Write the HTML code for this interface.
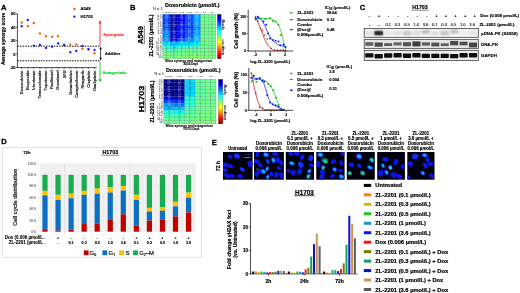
<!DOCTYPE html>
<html lang="en">
<head>
<meta charset="utf-8">
<title>ZL-2201 and doxorubicin synergy figure</title>
<style>
html,body{margin:0;padding:0;background:#fff;}
body{width:520px;height:293px;overflow:hidden;}
svg{display:block;font-family:"Liberation Sans",Arial,sans-serif;}
</style>
</head>
<body>
<svg width="520" height="293" viewBox="0 0 520 293">
<defs>
<linearGradient id="jet" x1="0" y1="0" x2="0" y2="1">
<stop offset="0" stop-color="#00008f"/>
<stop offset="0.12" stop-color="#0000ff"/>
<stop offset="0.37" stop-color="#00ffff"/>
<stop offset="0.5" stop-color="#7fff7f"/>
<stop offset="0.63" stop-color="#ffff00"/>
<stop offset="0.88" stop-color="#ff0000"/>
<stop offset="1" stop-color="#800000"/>
</linearGradient>
<filter id="b1" x="-30%" y="-30%" width="160%" height="160%"><feGaussianBlur stdDeviation="0.55"/></filter>
<filter id="b2" x="-30%" y="-60%" width="160%" height="220%"><feGaussianBlur stdDeviation="0.55"/></filter>
<filter id="b3" x="-30%" y="-60%" width="160%" height="220%"><feGaussianBlur stdDeviation="0.9"/></filter>
</defs>
<rect x="0" y="0" width="520" height="293" fill="#ffffff"/>
<g id="panelA">
<text x="1.00" y="9.70" font-size="7.6" text-anchor="start" font-weight="bold" fill="#000" stroke="#000" stroke-width="0.266">A</text>
<line x1="17.40" y1="13.60" x2="17.40" y2="67.90" stroke="#000" stroke-width="0.7"/>
<line x1="17.10" y1="67.60" x2="96.80" y2="67.60" stroke="#000" stroke-width="0.7"/>
<line x1="16.00" y1="13.90" x2="17.40" y2="13.90" stroke="#000" stroke-width="0.6"/>
<text x="15.40" y="15.30" font-size="4.0" text-anchor="end" font-weight="bold" fill="#000" stroke="#000" stroke-width="0.140">60</text>
<line x1="16.00" y1="27.30" x2="17.40" y2="27.30" stroke="#000" stroke-width="0.6"/>
<text x="15.40" y="28.70" font-size="4.0" text-anchor="end" font-weight="bold" fill="#000" stroke="#000" stroke-width="0.140">40</text>
<line x1="16.00" y1="40.70" x2="17.40" y2="40.70" stroke="#000" stroke-width="0.6"/>
<text x="15.40" y="42.10" font-size="4.0" text-anchor="end" font-weight="bold" fill="#000" stroke="#000" stroke-width="0.140">20</text>
<line x1="16.00" y1="54.10" x2="17.40" y2="54.10" stroke="#000" stroke-width="0.6"/>
<text x="15.40" y="55.50" font-size="4.0" text-anchor="end" font-weight="bold" fill="#000" stroke="#000" stroke-width="0.140">0</text>
<line x1="16.00" y1="67.50" x2="17.40" y2="67.50" stroke="#000" stroke-width="0.6"/>
<text x="15.40" y="68.90" font-size="4.0" text-anchor="end" font-weight="bold" fill="#000" stroke="#000" stroke-width="0.140">-20</text>
<text x="4.80" y="38.80" font-size="4.75" text-anchor="middle" font-weight="bold" fill="#000" transform="rotate(-90 4.80 38.80)" stroke="#000" stroke-width="0.166">Average synergy score</text>
<line x1="17.40" y1="54.10" x2="96.50" y2="54.10" stroke="#bbb" stroke-width="0.35" stroke-dasharray="0.6 0.6"/>
<line x1="17.40" y1="46.20" x2="100.30" y2="46.20" stroke="#000" stroke-width="0.95" stroke-dasharray="1.5 1.1"/>
<line x1="17.40" y1="60.80" x2="100.30" y2="60.80" stroke="#000" stroke-width="0.95" stroke-dasharray="1.5 1.1"/>
<line x1="21.70" y1="67.60" x2="21.70" y2="69.00" stroke="#000" stroke-width="0.5"/>
<text x="23.05" y="70.40" font-size="4.1" text-anchor="end" font-weight="bold" fill="#1a1a1a" transform="rotate(-90 23.05 70.40)" stroke="#1a1a1a" stroke-width="0.143">Doxorubicin</text>
<line x1="27.77" y1="67.60" x2="27.77" y2="69.00" stroke="#000" stroke-width="0.5"/>
<text x="29.12" y="70.40" font-size="4.1" text-anchor="end" font-weight="bold" fill="#1a1a1a" transform="rotate(-90 29.12 70.40)" stroke="#1a1a1a" stroke-width="0.143">Etoposide</text>
<line x1="33.84" y1="67.60" x2="33.84" y2="69.00" stroke="#000" stroke-width="0.5"/>
<text x="35.19" y="70.40" font-size="4.1" text-anchor="end" font-weight="bold" fill="#1a1a1a" transform="rotate(-90 35.19 70.40)" stroke="#1a1a1a" stroke-width="0.143">Irinotecan</text>
<line x1="39.91" y1="67.60" x2="39.91" y2="69.00" stroke="#000" stroke-width="0.5"/>
<text x="41.26" y="70.40" font-size="4.1" text-anchor="end" font-weight="bold" fill="#1a1a1a" transform="rotate(-90 41.26 70.40)" stroke="#1a1a1a" stroke-width="0.143">Temozolomide</text>
<line x1="45.98" y1="67.60" x2="45.98" y2="69.00" stroke="#000" stroke-width="0.5"/>
<text x="47.33" y="70.40" font-size="4.1" text-anchor="end" font-weight="bold" fill="#1a1a1a" transform="rotate(-90 47.33 70.40)" stroke="#1a1a1a" stroke-width="0.143">Topotecan</text>
<line x1="52.05" y1="67.60" x2="52.05" y2="69.00" stroke="#000" stroke-width="0.5"/>
<text x="53.40" y="70.40" font-size="4.1" text-anchor="end" font-weight="bold" fill="#1a1a1a" transform="rotate(-90 53.40 70.40)" stroke="#1a1a1a" stroke-width="0.143">Paclitaxel</text>
<line x1="58.12" y1="67.60" x2="58.12" y2="69.00" stroke="#000" stroke-width="0.5"/>
<text x="59.47" y="70.40" font-size="4.1" text-anchor="end" font-weight="bold" fill="#1a1a1a" transform="rotate(-90 59.47 70.40)" stroke="#1a1a1a" stroke-width="0.143">Docetaxel</text>
<line x1="64.19" y1="67.60" x2="64.19" y2="69.00" stroke="#000" stroke-width="0.5"/>
<text x="65.54" y="70.40" font-size="4.1" text-anchor="end" font-weight="bold" fill="#1a1a1a" transform="rotate(-90 65.54 70.40)" stroke="#1a1a1a" stroke-width="0.143">5FU</text>
<line x1="70.26" y1="67.60" x2="70.26" y2="69.00" stroke="#000" stroke-width="0.5"/>
<text x="71.61" y="70.40" font-size="4.1" text-anchor="end" font-weight="bold" fill="#1a1a1a" transform="rotate(-90 71.61 70.40)" stroke="#1a1a1a" stroke-width="0.143">Gemcitabine</text>
<line x1="76.33" y1="67.60" x2="76.33" y2="69.00" stroke="#000" stroke-width="0.5"/>
<text x="77.68" y="70.40" font-size="4.1" text-anchor="end" font-weight="bold" fill="#1a1a1a" transform="rotate(-90 77.68 70.40)" stroke="#1a1a1a" stroke-width="0.143">Camptothecin</text>
<line x1="82.40" y1="67.60" x2="82.40" y2="69.00" stroke="#000" stroke-width="0.5"/>
<text x="83.75" y="70.40" font-size="4.1" text-anchor="end" font-weight="bold" fill="#1a1a1a" transform="rotate(-90 83.75 70.40)" stroke="#1a1a1a" stroke-width="0.143">Niraparib</text>
<line x1="88.47" y1="67.60" x2="88.47" y2="69.00" stroke="#000" stroke-width="0.5"/>
<text x="89.82" y="70.40" font-size="4.1" text-anchor="end" font-weight="bold" fill="#1a1a1a" transform="rotate(-90 89.82 70.40)" stroke="#1a1a1a" stroke-width="0.143">Cisplatin</text>
<line x1="94.54" y1="67.60" x2="94.54" y2="69.00" stroke="#000" stroke-width="0.5"/>
<text x="95.89" y="70.40" font-size="4.1" text-anchor="end" font-weight="bold" fill="#1a1a1a" transform="rotate(-90 95.89 70.40)" stroke="#1a1a1a" stroke-width="0.143">Oxaliplatin</text>
<rect x="20.65" y="21.45" width="2.10" height="2.10" fill="#ff5a00"/>
<rect x="26.72" y="25.20" width="2.10" height="2.10" fill="#ff5a00"/>
<rect x="32.79" y="21.95" width="2.10" height="2.10" fill="#ff5a00"/>
<rect x="38.86" y="32.45" width="2.10" height="2.10" fill="#ff5a00"/>
<rect x="44.93" y="35.20" width="2.10" height="2.10" fill="#ff5a00"/>
<rect x="51.00" y="35.70" width="2.10" height="2.10" fill="#ff5a00"/>
<rect x="57.07" y="35.20" width="2.10" height="2.10" fill="#ff5a00"/>
<rect x="63.14" y="43.45" width="2.10" height="2.10" fill="#ff5a00"/>
<rect x="69.21" y="43.45" width="2.10" height="2.10" fill="#ff5a00"/>
<rect x="75.28" y="43.45" width="2.10" height="2.10" fill="#ff5a00"/>
<rect x="81.35" y="47.70" width="2.10" height="2.10" fill="#ff5a00"/>
<rect x="87.42" y="48.45" width="2.10" height="2.10" fill="#ff5a00"/>
<rect x="93.49" y="52.20" width="2.10" height="2.10" fill="#ff5a00"/>
<circle cx="21.70" cy="26.25" r="1.15" fill="#0a14ff"/>
<circle cx="27.77" cy="20.00" r="1.15" fill="#0a14ff"/>
<circle cx="33.84" cy="45.75" r="1.15" fill="#0a14ff"/>
<circle cx="39.91" cy="45.00" r="1.15" fill="#0a14ff"/>
<circle cx="45.98" cy="48.00" r="1.15" fill="#0a14ff"/>
<circle cx="52.05" cy="46.75" r="1.15" fill="#0a14ff"/>
<circle cx="58.12" cy="43.50" r="1.15" fill="#0a14ff"/>
<circle cx="64.19" cy="45.25" r="1.15" fill="#0a14ff"/>
<circle cx="70.26" cy="52.25" r="1.15" fill="#0a14ff"/>
<circle cx="76.33" cy="51.00" r="1.15" fill="#0a14ff"/>
<circle cx="82.40" cy="46.00" r="1.15" fill="#0a14ff"/>
<circle cx="88.47" cy="49.25" r="1.15" fill="#0a14ff"/>
<circle cx="94.54" cy="50.00" r="1.15" fill="#0a14ff"/>
<rect x="73.30" y="7.80" width="2.10" height="2.10" fill="#ff5a00"/>
<text x="80.50" y="10.30" font-size="4.2" text-anchor="start" font-weight="bold" fill="#000" stroke="#000" stroke-width="0.147">A549</text>
<circle cx="74.3" cy="16.7" r="1.15" fill="#0a14ff"/>
<text x="80.50" y="18.20" font-size="4.2" text-anchor="start" font-weight="bold" fill="#000" stroke="#000" stroke-width="0.147">H1703</text>
<line x1="100.00" y1="22.50" x2="100.00" y2="45.60" stroke="#ff2a2e" stroke-width="0.9"/>
<polygon points="100,20.3 98.4,23.6 101.6,23.6" fill="#ff2a2e"/>
<text x="103.20" y="36.30" font-size="3.9" text-anchor="start" font-weight="bold" fill="#ff2a2e" stroke="#ff2a2e" stroke-width="0.137">Synergistic</text>
<line x1="100.60" y1="48.00" x2="100.60" y2="59.00" stroke="#000" stroke-width="0.7"/>
<polygon points="100.6,46.6 99.4,49.2 101.8,49.2" fill="#000"/>
<polygon points="100.6,60.4 99.4,57.8 101.8,57.8" fill="#000"/>
<text x="105.00" y="54.60" font-size="3.9" text-anchor="start" font-weight="bold" fill="#000" stroke="#000" stroke-width="0.137">Additive</text>
<line x1="100.00" y1="61.50" x2="100.00" y2="80.40" stroke="#10d020" stroke-width="0.9"/>
<polygon points="100,82.6 98.4,79.3 101.6,79.3" fill="#10d020"/>
<text x="102.80" y="74.20" font-size="3.9" text-anchor="start" font-weight="bold" fill="#10d020" stroke="#10d020" stroke-width="0.137">Antagonistic</text>
</g>
<g id="panelB">
<text x="130.00" y="10.00" font-size="7.6" text-anchor="start" font-weight="bold" fill="#000" stroke="#000" stroke-width="0.266">B</text>
<text x="192.30" y="7.10" font-size="6.2" text-anchor="middle" font-weight="bold" fill="#000" stroke="#000" stroke-width="0.217" textLength="54.50" lengthAdjust="spacingAndGlyphs">Doxorubicin (µmol/L)</text>
<text x="152.90" y="10.40" font-size="3.9" text-anchor="start" font-weight="normal" fill="#111">N = 1</text>
<text x="166.40" y="12.90" font-size="2.5" text-anchor="middle" font-weight="normal" fill="#222">0.0015</text>
<text x="174.00" y="12.90" font-size="2.5" text-anchor="middle" font-weight="normal" fill="#222">0.004</text>
<text x="181.60" y="12.90" font-size="2.5" text-anchor="middle" font-weight="normal" fill="#222">0.02</text>
<text x="189.20" y="12.90" font-size="2.5" text-anchor="middle" font-weight="normal" fill="#222">0.08</text>
<text x="196.80" y="12.90" font-size="2.5" text-anchor="middle" font-weight="normal" fill="#222">0.2</text>
<text x="204.40" y="12.90" font-size="2.5" text-anchor="middle" font-weight="normal" fill="#222">7.2</text>
<text x="212.00" y="12.90" font-size="2.5" text-anchor="middle" font-weight="normal" fill="#222">20</text>
<text x="161.60" y="17.01" font-size="2.9" text-anchor="end" font-weight="normal" fill="#111">0.5</text>
<rect x="162.60" y="14.30" width="7.65" height="3.47" fill="#004dff"/>
<text x="166.40" y="16.96" font-size="2.6" text-anchor="middle" font-weight="normal" fill="#fff" opacity="0.6">33</text>
<rect x="170.20" y="14.30" width="7.65" height="3.47" fill="#00009a"/>
<text x="174.00" y="16.96" font-size="2.6" text-anchor="middle" font-weight="normal" fill="#fff" opacity="0.6">54</text>
<rect x="177.80" y="14.30" width="7.65" height="3.47" fill="#0000da"/>
<text x="181.60" y="16.96" font-size="2.6" text-anchor="middle" font-weight="normal" fill="#fff" opacity="0.6">46</text>
<rect x="185.40" y="14.30" width="7.65" height="3.47" fill="#0044ff"/>
<text x="189.20" y="16.96" font-size="2.6" text-anchor="middle" font-weight="normal" fill="#fff" opacity="0.6">34</text>
<rect x="193.00" y="14.30" width="7.65" height="3.47" fill="#009fff"/>
<text x="196.80" y="16.96" font-size="2.6" text-anchor="middle" font-weight="normal" fill="#fff" opacity="0.6">24</text>
<rect x="200.60" y="14.30" width="7.65" height="3.47" fill="#71ff8e"/>
<text x="204.40" y="16.96" font-size="2.6" text-anchor="middle" font-weight="normal" fill="#124" opacity="0.6">1</text>
<rect x="208.20" y="14.30" width="7.65" height="3.47" fill="#71ff8e"/>
<text x="212.00" y="16.96" font-size="2.6" text-anchor="middle" font-weight="normal" fill="#124" opacity="0.6">1</text>
<text x="161.60" y="20.43" font-size="2.9" text-anchor="end" font-weight="normal" fill="#111">0.7</text>
<rect x="162.60" y="17.72" width="7.65" height="3.47" fill="#0044ff"/>
<text x="166.40" y="20.38" font-size="2.6" text-anchor="middle" font-weight="normal" fill="#fff" opacity="0.6">34</text>
<rect x="170.20" y="17.72" width="7.65" height="3.47" fill="#0000b2"/>
<text x="174.00" y="20.38" font-size="2.6" text-anchor="middle" font-weight="normal" fill="#fff" opacity="0.6">51</text>
<rect x="177.80" y="17.72" width="7.65" height="3.47" fill="#0000f2"/>
<text x="181.60" y="20.38" font-size="2.6" text-anchor="middle" font-weight="normal" fill="#fff" opacity="0.6">43</text>
<rect x="185.40" y="17.72" width="7.65" height="3.47" fill="#004dff"/>
<text x="189.20" y="20.38" font-size="2.6" text-anchor="middle" font-weight="normal" fill="#fff" opacity="0.6">33</text>
<rect x="193.00" y="17.72" width="7.65" height="3.47" fill="#009fff"/>
<text x="196.80" y="20.38" font-size="2.6" text-anchor="middle" font-weight="normal" fill="#fff" opacity="0.6">24</text>
<rect x="200.60" y="17.72" width="7.65" height="3.47" fill="#71ff8e"/>
<text x="204.40" y="20.38" font-size="2.6" text-anchor="middle" font-weight="normal" fill="#124" opacity="0.6">1</text>
<rect x="208.20" y="17.72" width="7.65" height="3.47" fill="#71ff8e"/>
<text x="212.00" y="20.38" font-size="2.6" text-anchor="middle" font-weight="normal" fill="#124" opacity="0.6">1</text>
<text x="161.60" y="23.86" font-size="2.9" text-anchor="end" font-weight="normal" fill="#111">1.1</text>
<rect x="162.60" y="21.15" width="7.65" height="3.47" fill="#0032ff"/>
<text x="166.40" y="23.81" font-size="2.6" text-anchor="middle" font-weight="normal" fill="#fff" opacity="0.6">36</text>
<rect x="170.20" y="21.15" width="7.65" height="3.47" fill="#00008f"/>
<text x="174.00" y="23.81" font-size="2.6" text-anchor="middle" font-weight="normal" fill="#fff" opacity="0.6">57</text>
<rect x="177.80" y="21.15" width="7.65" height="3.47" fill="#0000e2"/>
<text x="181.60" y="23.81" font-size="2.6" text-anchor="middle" font-weight="normal" fill="#fff" opacity="0.6">45</text>
<rect x="185.40" y="21.15" width="7.65" height="3.47" fill="#0044ff"/>
<text x="189.20" y="23.81" font-size="2.6" text-anchor="middle" font-weight="normal" fill="#fff" opacity="0.6">34</text>
<rect x="193.00" y="21.15" width="7.65" height="3.47" fill="#009fff"/>
<text x="196.80" y="23.81" font-size="2.6" text-anchor="middle" font-weight="normal" fill="#fff" opacity="0.6">24</text>
<rect x="200.60" y="21.15" width="7.65" height="3.47" fill="#71ff8e"/>
<text x="204.40" y="23.81" font-size="2.6" text-anchor="middle" font-weight="normal" fill="#124" opacity="0.6">1</text>
<rect x="208.20" y="21.15" width="7.65" height="3.47" fill="#71ff8e"/>
<text x="212.00" y="23.81" font-size="2.6" text-anchor="middle" font-weight="normal" fill="#124" opacity="0.6">1</text>
<text x="161.60" y="27.28" font-size="2.9" text-anchor="end" font-weight="normal" fill="#111">1.6</text>
<rect x="162.60" y="24.57" width="7.65" height="3.47" fill="#004dff"/>
<text x="166.40" y="27.23" font-size="2.6" text-anchor="middle" font-weight="normal" fill="#fff" opacity="0.6">33</text>
<rect x="170.20" y="24.57" width="7.65" height="3.47" fill="#0000ca"/>
<text x="174.00" y="27.23" font-size="2.6" text-anchor="middle" font-weight="normal" fill="#fff" opacity="0.6">48</text>
<rect x="177.80" y="24.57" width="7.65" height="3.47" fill="#0016ff"/>
<text x="181.60" y="27.23" font-size="2.6" text-anchor="middle" font-weight="normal" fill="#fff" opacity="0.6">39</text>
<rect x="185.40" y="24.57" width="7.65" height="3.47" fill="#003bff"/>
<text x="189.20" y="27.23" font-size="2.6" text-anchor="middle" font-weight="normal" fill="#fff" opacity="0.6">35</text>
<rect x="193.00" y="24.57" width="7.65" height="3.47" fill="#0096ff"/>
<text x="196.80" y="27.23" font-size="2.6" text-anchor="middle" font-weight="normal" fill="#fff" opacity="0.6">25</text>
<rect x="200.60" y="24.57" width="7.65" height="3.47" fill="#71ff8e"/>
<text x="204.40" y="27.23" font-size="2.6" text-anchor="middle" font-weight="normal" fill="#124" opacity="0.6">1</text>
<rect x="208.20" y="24.57" width="7.65" height="3.47" fill="#71ff8e"/>
<text x="212.00" y="27.23" font-size="2.6" text-anchor="middle" font-weight="normal" fill="#124" opacity="0.6">1</text>
<text x="161.60" y="30.70" font-size="2.9" text-anchor="end" font-weight="normal" fill="#111">2.3</text>
<rect x="162.60" y="27.99" width="7.65" height="3.47" fill="#005fff"/>
<text x="166.40" y="30.65" font-size="2.6" text-anchor="middle" font-weight="normal" fill="#fff" opacity="0.6">31</text>
<rect x="170.20" y="27.99" width="7.65" height="3.47" fill="#0000b2"/>
<text x="174.00" y="30.65" font-size="2.6" text-anchor="middle" font-weight="normal" fill="#fff" opacity="0.6">51</text>
<rect x="177.80" y="27.99" width="7.65" height="3.47" fill="#0016ff"/>
<text x="181.60" y="30.65" font-size="2.6" text-anchor="middle" font-weight="normal" fill="#fff" opacity="0.6">39</text>
<rect x="185.40" y="27.99" width="7.65" height="3.47" fill="#004dff"/>
<text x="189.20" y="30.65" font-size="2.6" text-anchor="middle" font-weight="normal" fill="#fff" opacity="0.6">33</text>
<rect x="193.00" y="27.99" width="7.65" height="3.47" fill="#0096ff"/>
<text x="196.80" y="30.65" font-size="2.6" text-anchor="middle" font-weight="normal" fill="#fff" opacity="0.6">25</text>
<rect x="200.60" y="27.99" width="7.65" height="3.47" fill="#71ff8e"/>
<text x="204.40" y="30.65" font-size="2.6" text-anchor="middle" font-weight="normal" fill="#124" opacity="0.6">1</text>
<rect x="208.20" y="27.99" width="7.65" height="3.47" fill="#71ff8e"/>
<text x="212.00" y="30.65" font-size="2.6" text-anchor="middle" font-weight="normal" fill="#124" opacity="0.6">1</text>
<text x="161.60" y="34.13" font-size="2.9" text-anchor="end" font-weight="normal" fill="#111">3.4</text>
<rect x="162.60" y="31.42" width="7.65" height="3.47" fill="#0084ff"/>
<text x="166.40" y="34.08" font-size="2.6" text-anchor="middle" font-weight="normal" fill="#fff" opacity="0.6">27</text>
<rect x="170.20" y="31.42" width="7.65" height="3.47" fill="#0000ca"/>
<text x="174.00" y="34.08" font-size="2.6" text-anchor="middle" font-weight="normal" fill="#fff" opacity="0.6">48</text>
<rect x="177.80" y="31.42" width="7.65" height="3.47" fill="#0016ff"/>
<text x="181.60" y="34.08" font-size="2.6" text-anchor="middle" font-weight="normal" fill="#fff" opacity="0.6">39</text>
<rect x="185.40" y="31.42" width="7.65" height="3.47" fill="#004dff"/>
<text x="189.20" y="34.08" font-size="2.6" text-anchor="middle" font-weight="normal" fill="#fff" opacity="0.6">33</text>
<rect x="193.00" y="31.42" width="7.65" height="3.47" fill="#009fff"/>
<text x="196.80" y="34.08" font-size="2.6" text-anchor="middle" font-weight="normal" fill="#fff" opacity="0.6">24</text>
<rect x="200.60" y="31.42" width="7.65" height="3.47" fill="#71ff8e"/>
<text x="204.40" y="34.08" font-size="2.6" text-anchor="middle" font-weight="normal" fill="#124" opacity="0.6">1</text>
<rect x="208.20" y="31.42" width="7.65" height="3.47" fill="#71ff8e"/>
<text x="212.00" y="34.08" font-size="2.6" text-anchor="middle" font-weight="normal" fill="#124" opacity="0.6">1</text>
<text x="161.60" y="37.55" font-size="2.9" text-anchor="end" font-weight="normal" fill="#111">5</text>
<rect x="162.60" y="34.84" width="7.65" height="3.47" fill="#0084ff"/>
<text x="166.40" y="37.50" font-size="2.6" text-anchor="middle" font-weight="normal" fill="#fff" opacity="0.6">27</text>
<rect x="170.20" y="34.84" width="7.65" height="3.47" fill="#0000ca"/>
<text x="174.00" y="37.50" font-size="2.6" text-anchor="middle" font-weight="normal" fill="#fff" opacity="0.6">48</text>
<rect x="177.80" y="34.84" width="7.65" height="3.47" fill="#000dff"/>
<text x="181.60" y="37.50" font-size="2.6" text-anchor="middle" font-weight="normal" fill="#fff" opacity="0.6">40</text>
<rect x="185.40" y="34.84" width="7.65" height="3.47" fill="#005fff"/>
<text x="189.20" y="37.50" font-size="2.6" text-anchor="middle" font-weight="normal" fill="#fff" opacity="0.6">31</text>
<rect x="193.00" y="34.84" width="7.65" height="3.47" fill="#00b1ff"/>
<text x="196.80" y="37.50" font-size="2.6" text-anchor="middle" font-weight="normal" fill="#fff" opacity="0.6">22</text>
<rect x="200.60" y="34.84" width="7.65" height="3.47" fill="#71ff8e"/>
<text x="204.40" y="37.50" font-size="2.6" text-anchor="middle" font-weight="normal" fill="#124" opacity="0.6">1</text>
<rect x="208.20" y="34.84" width="7.65" height="3.47" fill="#71ff8e"/>
<text x="212.00" y="37.50" font-size="2.6" text-anchor="middle" font-weight="normal" fill="#124" opacity="0.6">1</text>
<text x="161.60" y="40.97" font-size="2.9" text-anchor="end" font-weight="normal" fill="#111">7.3</text>
<rect x="162.60" y="38.26" width="7.65" height="3.47" fill="#0096ff"/>
<text x="166.40" y="40.92" font-size="2.6" text-anchor="middle" font-weight="normal" fill="#fff" opacity="0.6">25</text>
<rect x="170.20" y="38.26" width="7.65" height="3.47" fill="#0000fb"/>
<text x="174.00" y="40.92" font-size="2.6" text-anchor="middle" font-weight="normal" fill="#fff" opacity="0.6">42</text>
<rect x="177.80" y="38.26" width="7.65" height="3.47" fill="#004dff"/>
<text x="181.60" y="40.92" font-size="2.6" text-anchor="middle" font-weight="normal" fill="#fff" opacity="0.6">33</text>
<rect x="185.40" y="38.26" width="7.65" height="3.47" fill="#0084ff"/>
<text x="189.20" y="40.92" font-size="2.6" text-anchor="middle" font-weight="normal" fill="#fff" opacity="0.6">27</text>
<rect x="193.00" y="38.26" width="7.65" height="3.47" fill="#00c3ff"/>
<text x="196.80" y="40.92" font-size="2.6" text-anchor="middle" font-weight="normal" fill="#fff" opacity="0.6">20</text>
<rect x="200.60" y="38.26" width="7.65" height="3.47" fill="#71ff8e"/>
<text x="204.40" y="40.92" font-size="2.6" text-anchor="middle" font-weight="normal" fill="#124" opacity="0.6">1</text>
<rect x="208.20" y="38.26" width="7.65" height="3.47" fill="#71ff8e"/>
<text x="212.00" y="40.92" font-size="2.6" text-anchor="middle" font-weight="normal" fill="#124" opacity="0.6">1</text>
<text x="161.60" y="44.40" font-size="2.9" text-anchor="end" font-weight="normal" fill="#111">10.8</text>
<rect x="162.60" y="41.68" width="7.65" height="3.47" fill="#00e8ff"/>
<text x="166.40" y="44.35" font-size="2.6" text-anchor="middle" font-weight="normal" fill="#124" opacity="0.6">16</text>
<rect x="170.20" y="41.68" width="7.65" height="3.47" fill="#00b1ff"/>
<text x="174.00" y="44.35" font-size="2.6" text-anchor="middle" font-weight="normal" fill="#fff" opacity="0.6">22</text>
<rect x="177.80" y="41.68" width="7.65" height="3.47" fill="#00ccff"/>
<text x="181.60" y="44.35" font-size="2.6" text-anchor="middle" font-weight="normal" fill="#fff" opacity="0.6">19</text>
<rect x="185.40" y="41.68" width="7.65" height="3.47" fill="#00dfff"/>
<text x="189.20" y="44.35" font-size="2.6" text-anchor="middle" font-weight="normal" fill="#124" opacity="0.6">17</text>
<rect x="193.00" y="41.68" width="7.65" height="3.47" fill="#00faff"/>
<text x="196.80" y="44.35" font-size="2.6" text-anchor="middle" font-weight="normal" fill="#124" opacity="0.6">14</text>
<rect x="200.60" y="41.68" width="7.65" height="3.47" fill="#71ff8e"/>
<text x="204.40" y="44.35" font-size="2.6" text-anchor="middle" font-weight="normal" fill="#124" opacity="0.6">1</text>
<rect x="208.20" y="41.68" width="7.65" height="3.47" fill="#71ff8e"/>
<text x="212.00" y="44.35" font-size="2.6" text-anchor="middle" font-weight="normal" fill="#124" opacity="0.6">1</text>
<text x="161.60" y="47.82" font-size="2.9" text-anchor="end" font-weight="normal" fill="#111">15.8</text>
<rect x="162.60" y="45.11" width="7.65" height="3.47" fill="#32ffcd"/>
<text x="166.40" y="47.77" font-size="2.6" text-anchor="middle" font-weight="normal" fill="#124" opacity="0.6">8</text>
<rect x="170.20" y="45.11" width="7.65" height="3.47" fill="#00faff"/>
<text x="174.00" y="47.77" font-size="2.6" text-anchor="middle" font-weight="normal" fill="#124" opacity="0.6">14</text>
<rect x="177.80" y="45.11" width="7.65" height="3.47" fill="#28ffd7"/>
<text x="181.60" y="47.77" font-size="2.6" text-anchor="middle" font-weight="normal" fill="#124" opacity="0.6">9</text>
<rect x="185.40" y="45.11" width="7.65" height="3.47" fill="#32ffcd"/>
<text x="189.20" y="47.77" font-size="2.6" text-anchor="middle" font-weight="normal" fill="#124" opacity="0.6">8</text>
<rect x="193.00" y="45.11" width="7.65" height="3.47" fill="#44ffbb"/>
<text x="196.80" y="47.77" font-size="2.6" text-anchor="middle" font-weight="normal" fill="#124" opacity="0.6">6</text>
<rect x="200.60" y="45.11" width="7.65" height="3.47" fill="#71ff8e"/>
<text x="204.40" y="47.77" font-size="2.6" text-anchor="middle" font-weight="normal" fill="#124" opacity="0.6">1</text>
<rect x="208.20" y="45.11" width="7.65" height="3.47" fill="#71ff8e"/>
<text x="212.00" y="47.77" font-size="2.6" text-anchor="middle" font-weight="normal" fill="#124" opacity="0.6">1</text>
<text x="161.60" y="51.24" font-size="2.9" text-anchor="end" font-weight="normal" fill="#111">23.2</text>
<rect x="162.60" y="48.53" width="7.65" height="3.47" fill="#56ffa9"/>
<text x="166.40" y="51.19" font-size="2.6" text-anchor="middle" font-weight="normal" fill="#124" opacity="0.6">4</text>
<rect x="170.20" y="48.53" width="7.65" height="3.47" fill="#44ffbb"/>
<text x="174.00" y="51.19" font-size="2.6" text-anchor="middle" font-weight="normal" fill="#124" opacity="0.6">6</text>
<rect x="177.80" y="48.53" width="7.65" height="3.47" fill="#5fffa0"/>
<text x="181.60" y="51.19" font-size="2.6" text-anchor="middle" font-weight="normal" fill="#124" opacity="0.6">3</text>
<rect x="185.40" y="48.53" width="7.65" height="3.47" fill="#68ff97"/>
<text x="189.20" y="51.19" font-size="2.6" text-anchor="middle" font-weight="normal" fill="#124" opacity="0.6">2</text>
<rect x="193.00" y="48.53" width="7.65" height="3.47" fill="#68ff97"/>
<text x="196.80" y="51.19" font-size="2.6" text-anchor="middle" font-weight="normal" fill="#124" opacity="0.6">2</text>
<rect x="200.60" y="48.53" width="7.65" height="3.47" fill="#71ff8e"/>
<text x="204.40" y="51.19" font-size="2.6" text-anchor="middle" font-weight="normal" fill="#124" opacity="0.6">1</text>
<rect x="208.20" y="48.53" width="7.65" height="3.47" fill="#71ff8e"/>
<text x="212.00" y="51.19" font-size="2.6" text-anchor="middle" font-weight="normal" fill="#124" opacity="0.6">1</text>
<text x="161.60" y="54.67" font-size="2.9" text-anchor="end" font-weight="normal" fill="#111">34.1</text>
<rect x="162.60" y="51.95" width="7.65" height="3.47" fill="#71ff8e"/>
<text x="166.40" y="54.62" font-size="2.6" text-anchor="middle" font-weight="normal" fill="#124" opacity="0.6">1</text>
<rect x="170.20" y="51.95" width="7.65" height="3.47" fill="#68ff97"/>
<text x="174.00" y="54.62" font-size="2.6" text-anchor="middle" font-weight="normal" fill="#124" opacity="0.6">2</text>
<rect x="177.80" y="51.95" width="7.65" height="3.47" fill="#71ff8e"/>
<text x="181.60" y="54.62" font-size="2.6" text-anchor="middle" font-weight="normal" fill="#124" opacity="0.6">1</text>
<rect x="185.40" y="51.95" width="7.65" height="3.47" fill="#7aff85"/>
<text x="189.20" y="54.62" font-size="2.6" text-anchor="middle" font-weight="normal" fill="#124" opacity="0.6">0</text>
<rect x="193.00" y="51.95" width="7.65" height="3.47" fill="#7aff85"/>
<text x="196.80" y="54.62" font-size="2.6" text-anchor="middle" font-weight="normal" fill="#124" opacity="0.6">0</text>
<rect x="200.60" y="51.95" width="7.65" height="3.47" fill="#7aff85"/>
<text x="204.40" y="54.62" font-size="2.6" text-anchor="middle" font-weight="normal" fill="#124" opacity="0.6">0</text>
<rect x="208.20" y="51.95" width="7.65" height="3.47" fill="#7aff85"/>
<text x="212.00" y="54.62" font-size="2.6" text-anchor="middle" font-weight="normal" fill="#124" opacity="0.6">0</text>
<text x="161.60" y="58.09" font-size="2.9" text-anchor="end" font-weight="normal" fill="#111">50</text>
<rect x="162.60" y="55.38" width="7.65" height="3.47" fill="#84ff7b"/>
<text x="166.40" y="58.04" font-size="2.6" text-anchor="middle" font-weight="normal" fill="#124" opacity="0.6">-1</text>
<rect x="170.20" y="55.38" width="7.65" height="3.47" fill="#7aff85"/>
<text x="174.00" y="58.04" font-size="2.6" text-anchor="middle" font-weight="normal" fill="#124" opacity="0.6">0</text>
<rect x="177.80" y="55.38" width="7.65" height="3.47" fill="#84ff7b"/>
<text x="181.60" y="58.04" font-size="2.6" text-anchor="middle" font-weight="normal" fill="#124" opacity="0.6">-1</text>
<rect x="185.40" y="55.38" width="7.65" height="3.47" fill="#8dff72"/>
<text x="189.20" y="58.04" font-size="2.6" text-anchor="middle" font-weight="normal" fill="#124" opacity="0.6">-2</text>
<rect x="193.00" y="55.38" width="7.65" height="3.47" fill="#8dff72"/>
<text x="196.80" y="58.04" font-size="2.6" text-anchor="middle" font-weight="normal" fill="#124" opacity="0.6">-2</text>
<rect x="200.60" y="55.38" width="7.65" height="3.47" fill="#84ff7b"/>
<text x="204.40" y="58.04" font-size="2.6" text-anchor="middle" font-weight="normal" fill="#124" opacity="0.6">-1</text>
<rect x="208.20" y="55.38" width="7.65" height="3.47" fill="#84ff7b"/>
<text x="212.00" y="58.04" font-size="2.6" text-anchor="middle" font-weight="normal" fill="#124" opacity="0.6">-1</text>
<line x1="162.60" y1="14.30" x2="162.60" y2="58.80" stroke="#1a2a3a" stroke-width="0.28" opacity="0.7"/>
<line x1="170.20" y1="14.30" x2="170.20" y2="58.80" stroke="#1a2a3a" stroke-width="0.28" opacity="0.7"/>
<line x1="177.80" y1="14.30" x2="177.80" y2="58.80" stroke="#1a2a3a" stroke-width="0.28" opacity="0.7"/>
<line x1="185.40" y1="14.30" x2="185.40" y2="58.80" stroke="#1a2a3a" stroke-width="0.28" opacity="0.7"/>
<line x1="193.00" y1="14.30" x2="193.00" y2="58.80" stroke="#1a2a3a" stroke-width="0.28" opacity="0.7"/>
<line x1="200.60" y1="14.30" x2="200.60" y2="58.80" stroke="#1a2a3a" stroke-width="0.28" opacity="0.7"/>
<line x1="208.20" y1="14.30" x2="208.20" y2="58.80" stroke="#1a2a3a" stroke-width="0.28" opacity="0.7"/>
<line x1="215.80" y1="14.30" x2="215.80" y2="58.80" stroke="#1a2a3a" stroke-width="0.28" opacity="0.7"/>
<line x1="162.60" y1="14.30" x2="215.80" y2="14.30" stroke="#1a2a3a" stroke-width="0.28" opacity="0.7"/>
<line x1="162.60" y1="17.72" x2="215.80" y2="17.72" stroke="#1a2a3a" stroke-width="0.28" opacity="0.7"/>
<line x1="162.60" y1="21.15" x2="215.80" y2="21.15" stroke="#1a2a3a" stroke-width="0.28" opacity="0.7"/>
<line x1="162.60" y1="24.57" x2="215.80" y2="24.57" stroke="#1a2a3a" stroke-width="0.28" opacity="0.7"/>
<line x1="162.60" y1="27.99" x2="215.80" y2="27.99" stroke="#1a2a3a" stroke-width="0.28" opacity="0.7"/>
<line x1="162.60" y1="31.42" x2="215.80" y2="31.42" stroke="#1a2a3a" stroke-width="0.28" opacity="0.7"/>
<line x1="162.60" y1="34.84" x2="215.80" y2="34.84" stroke="#1a2a3a" stroke-width="0.28" opacity="0.7"/>
<line x1="162.60" y1="38.26" x2="215.80" y2="38.26" stroke="#1a2a3a" stroke-width="0.28" opacity="0.7"/>
<line x1="162.60" y1="41.68" x2="215.80" y2="41.68" stroke="#1a2a3a" stroke-width="0.28" opacity="0.7"/>
<line x1="162.60" y1="45.11" x2="215.80" y2="45.11" stroke="#1a2a3a" stroke-width="0.28" opacity="0.7"/>
<line x1="162.60" y1="48.53" x2="215.80" y2="48.53" stroke="#1a2a3a" stroke-width="0.28" opacity="0.7"/>
<line x1="162.60" y1="51.95" x2="215.80" y2="51.95" stroke="#1a2a3a" stroke-width="0.28" opacity="0.7"/>
<line x1="162.60" y1="55.38" x2="215.80" y2="55.38" stroke="#1a2a3a" stroke-width="0.28" opacity="0.7"/>
<line x1="162.60" y1="58.80" x2="215.80" y2="58.80" stroke="#1a2a3a" stroke-width="0.28" opacity="0.7"/>
<rect x="217.30" y="14.30" width="3.80" height="44.50" fill="url(#jet)" stroke="#333" stroke-width="0.2"/>
<text x="224.10" y="24.80" font-size="2.9" text-anchor="middle" font-weight="normal" fill="#111" transform="rotate(-90 224.10 24.80)" stroke="#111" stroke-width="0.080">Synergy</text>
<text x="224.10" y="47.30" font-size="2.9" text-anchor="middle" font-weight="normal" fill="#111" transform="rotate(-90 224.10 47.30)" stroke="#111" stroke-width="0.080">Antagonism</text>
<text x="188.70" y="62.00" font-size="3.25" text-anchor="middle" font-weight="bold" fill="#111" stroke="#111" stroke-width="0.114">Bliss synergy and antagonism</text>
<text x="190.70" y="65.10" font-size="2.8" text-anchor="middle" font-weight="bold" fill="#111" stroke="#111" stroke-width="0.098">A549-Day4</text>
<text x="193.20" y="72.00" font-size="6.2" text-anchor="middle" font-weight="bold" fill="#000" stroke="#000" stroke-width="0.217" textLength="54.50" lengthAdjust="spacingAndGlyphs">Doxorubicin (µmol/L)</text>
<text x="154.60" y="75.00" font-size="3.9" text-anchor="start" font-weight="normal" fill="#111">N = 1</text>
<text x="168.93" y="76.80" font-size="2.5" text-anchor="middle" font-weight="normal" fill="#222">0.0015</text>
<text x="179.39" y="76.80" font-size="2.5" text-anchor="middle" font-weight="normal" fill="#222">0.004</text>
<text x="189.85" y="76.80" font-size="2.5" text-anchor="middle" font-weight="normal" fill="#222">0.02</text>
<text x="200.31" y="76.80" font-size="2.5" text-anchor="middle" font-weight="normal" fill="#222">0.08</text>
<text x="210.77" y="76.80" font-size="2.5" text-anchor="middle" font-weight="normal" fill="#222">0.2</text>
<text x="162.70" y="82.02" font-size="2.9" text-anchor="end" font-weight="normal" fill="#111">0.5</text>
<rect x="163.70" y="79.30" width="10.51" height="3.48" fill="#00008f"/>
<text x="168.93" y="81.97" font-size="2.6" text-anchor="middle" font-weight="normal" fill="#fff" opacity="0.6">64</text>
<rect x="174.16" y="79.30" width="10.51" height="3.48" fill="#00008f"/>
<text x="179.39" y="81.97" font-size="2.6" text-anchor="middle" font-weight="normal" fill="#fff" opacity="0.6">73</text>
<rect x="184.62" y="79.30" width="10.51" height="3.48" fill="#00dfff"/>
<text x="189.85" y="81.97" font-size="2.6" text-anchor="middle" font-weight="normal" fill="#124" opacity="0.6">13</text>
<rect x="195.08" y="79.30" width="10.51" height="3.48" fill="#63ff9c"/>
<text x="200.31" y="81.97" font-size="2.6" text-anchor="middle" font-weight="normal" fill="#124" opacity="0.6">2</text>
<rect x="205.54" y="79.30" width="10.51" height="3.48" fill="#6fff90"/>
<text x="210.77" y="81.97" font-size="2.6" text-anchor="middle" font-weight="normal" fill="#124" opacity="0.6">1</text>
<text x="162.70" y="85.45" font-size="2.9" text-anchor="end" font-weight="normal" fill="#111">0.7</text>
<rect x="163.70" y="82.73" width="10.51" height="3.48" fill="#00008f"/>
<text x="168.93" y="85.40" font-size="2.6" text-anchor="middle" font-weight="normal" fill="#fff" opacity="0.6">57</text>
<rect x="174.16" y="82.73" width="10.51" height="3.48" fill="#00008f"/>
<text x="179.39" y="85.40" font-size="2.6" text-anchor="middle" font-weight="normal" fill="#fff" opacity="0.6">66</text>
<rect x="184.62" y="82.73" width="10.51" height="3.48" fill="#00d4ff"/>
<text x="189.85" y="85.40" font-size="2.6" text-anchor="middle" font-weight="normal" fill="#124" opacity="0.6">14</text>
<rect x="195.08" y="82.73" width="10.51" height="3.48" fill="#63ff9c"/>
<text x="200.31" y="85.40" font-size="2.6" text-anchor="middle" font-weight="normal" fill="#124" opacity="0.6">2</text>
<rect x="205.54" y="82.73" width="10.51" height="3.48" fill="#6fff90"/>
<text x="210.77" y="85.40" font-size="2.6" text-anchor="middle" font-weight="normal" fill="#124" opacity="0.6">1</text>
<text x="162.70" y="88.88" font-size="2.9" text-anchor="end" font-weight="normal" fill="#111">1.1</text>
<rect x="163.70" y="86.16" width="10.51" height="3.48" fill="#00008f"/>
<text x="168.93" y="88.83" font-size="2.6" text-anchor="middle" font-weight="normal" fill="#fff" opacity="0.6">47</text>
<rect x="174.16" y="86.16" width="10.51" height="3.48" fill="#00008f"/>
<text x="179.39" y="88.83" font-size="2.6" text-anchor="middle" font-weight="normal" fill="#fff" opacity="0.6">62</text>
<rect x="184.62" y="86.16" width="10.51" height="3.48" fill="#00d4ff"/>
<text x="189.85" y="88.83" font-size="2.6" text-anchor="middle" font-weight="normal" fill="#124" opacity="0.6">14</text>
<rect x="195.08" y="86.16" width="10.51" height="3.48" fill="#63ff9c"/>
<text x="200.31" y="88.83" font-size="2.6" text-anchor="middle" font-weight="normal" fill="#124" opacity="0.6">2</text>
<rect x="205.54" y="86.16" width="10.51" height="3.48" fill="#6fff90"/>
<text x="210.77" y="88.83" font-size="2.6" text-anchor="middle" font-weight="normal" fill="#124" opacity="0.6">1</text>
<text x="162.70" y="92.31" font-size="2.9" text-anchor="end" font-weight="normal" fill="#111">1.6</text>
<rect x="163.70" y="89.59" width="10.51" height="3.48" fill="#00008f"/>
<text x="168.93" y="92.26" font-size="2.6" text-anchor="middle" font-weight="normal" fill="#fff" opacity="0.6">44</text>
<rect x="174.16" y="89.59" width="10.51" height="3.48" fill="#00008f"/>
<text x="179.39" y="92.26" font-size="2.6" text-anchor="middle" font-weight="normal" fill="#fff" opacity="0.6">61</text>
<rect x="184.62" y="89.59" width="10.51" height="3.48" fill="#00dfff"/>
<text x="189.85" y="92.26" font-size="2.6" text-anchor="middle" font-weight="normal" fill="#124" opacity="0.6">13</text>
<rect x="195.08" y="89.59" width="10.51" height="3.48" fill="#63ff9c"/>
<text x="200.31" y="92.26" font-size="2.6" text-anchor="middle" font-weight="normal" fill="#124" opacity="0.6">2</text>
<rect x="205.54" y="89.59" width="10.51" height="3.48" fill="#6fff90"/>
<text x="210.77" y="92.26" font-size="2.6" text-anchor="middle" font-weight="normal" fill="#124" opacity="0.6">1</text>
<text x="162.70" y="95.74" font-size="2.9" text-anchor="end" font-weight="normal" fill="#111">2.3</text>
<rect x="163.70" y="93.02" width="10.51" height="3.48" fill="#00008f"/>
<text x="168.93" y="95.69" font-size="2.6" text-anchor="middle" font-weight="normal" fill="#fff" opacity="0.6">45</text>
<rect x="174.16" y="93.02" width="10.51" height="3.48" fill="#00008f"/>
<text x="179.39" y="95.69" font-size="2.6" text-anchor="middle" font-weight="normal" fill="#fff" opacity="0.6">47</text>
<rect x="184.62" y="93.02" width="10.51" height="3.48" fill="#00dfff"/>
<text x="189.85" y="95.69" font-size="2.6" text-anchor="middle" font-weight="normal" fill="#124" opacity="0.6">13</text>
<rect x="195.08" y="93.02" width="10.51" height="3.48" fill="#63ff9c"/>
<text x="200.31" y="95.69" font-size="2.6" text-anchor="middle" font-weight="normal" fill="#124" opacity="0.6">2</text>
<rect x="205.54" y="93.02" width="10.51" height="3.48" fill="#6fff90"/>
<text x="210.77" y="95.69" font-size="2.6" text-anchor="middle" font-weight="normal" fill="#124" opacity="0.6">1</text>
<text x="162.70" y="99.17" font-size="2.9" text-anchor="end" font-weight="normal" fill="#111">3.4</text>
<rect x="163.70" y="96.45" width="10.51" height="3.48" fill="#0000f3"/>
<text x="168.93" y="99.12" font-size="2.6" text-anchor="middle" font-weight="normal" fill="#fff" opacity="0.6">33</text>
<rect x="174.16" y="96.45" width="10.51" height="3.48" fill="#0000ca"/>
<text x="179.39" y="99.12" font-size="2.6" text-anchor="middle" font-weight="normal" fill="#fff" opacity="0.6">37</text>
<rect x="184.62" y="96.45" width="10.51" height="3.48" fill="#1cffe3"/>
<text x="189.85" y="99.12" font-size="2.6" text-anchor="middle" font-weight="normal" fill="#124" opacity="0.6">8</text>
<rect x="195.08" y="96.45" width="10.51" height="3.48" fill="#63ff9c"/>
<text x="200.31" y="99.12" font-size="2.6" text-anchor="middle" font-weight="normal" fill="#124" opacity="0.6">2</text>
<rect x="205.54" y="96.45" width="10.51" height="3.48" fill="#6fff90"/>
<text x="210.77" y="99.12" font-size="2.6" text-anchor="middle" font-weight="normal" fill="#124" opacity="0.6">1</text>
<text x="162.70" y="102.60" font-size="2.9" text-anchor="end" font-weight="normal" fill="#111">5</text>
<rect x="163.70" y="99.88" width="10.51" height="3.48" fill="#0046ff"/>
<text x="168.93" y="102.55" font-size="2.6" text-anchor="middle" font-weight="normal" fill="#fff" opacity="0.6">26</text>
<rect x="174.16" y="99.88" width="10.51" height="3.48" fill="#002eff"/>
<text x="179.39" y="102.55" font-size="2.6" text-anchor="middle" font-weight="normal" fill="#fff" opacity="0.6">28</text>
<rect x="184.62" y="99.88" width="10.51" height="3.48" fill="#28ffd7"/>
<text x="189.85" y="102.55" font-size="2.6" text-anchor="middle" font-weight="normal" fill="#124" opacity="0.6">7</text>
<rect x="195.08" y="99.88" width="10.51" height="3.48" fill="#6fff90"/>
<text x="200.31" y="102.55" font-size="2.6" text-anchor="middle" font-weight="normal" fill="#124" opacity="0.6">1</text>
<rect x="205.54" y="99.88" width="10.51" height="3.48" fill="#6fff90"/>
<text x="210.77" y="102.55" font-size="2.6" text-anchor="middle" font-weight="normal" fill="#124" opacity="0.6">1</text>
<text x="162.70" y="106.03" font-size="2.9" text-anchor="end" font-weight="normal" fill="#111">7.3</text>
<rect x="163.70" y="103.32" width="10.51" height="3.48" fill="#0098ff"/>
<text x="168.93" y="105.98" font-size="2.6" text-anchor="middle" font-weight="normal" fill="#fff" opacity="0.6">19</text>
<rect x="174.16" y="103.32" width="10.51" height="3.48" fill="#0075ff"/>
<text x="179.39" y="105.98" font-size="2.6" text-anchor="middle" font-weight="normal" fill="#fff" opacity="0.6">22</text>
<rect x="184.62" y="103.32" width="10.51" height="3.48" fill="#33ffcc"/>
<text x="189.85" y="105.98" font-size="2.6" text-anchor="middle" font-weight="normal" fill="#124" opacity="0.6">6</text>
<rect x="195.08" y="103.32" width="10.51" height="3.48" fill="#6fff90"/>
<text x="200.31" y="105.98" font-size="2.6" text-anchor="middle" font-weight="normal" fill="#124" opacity="0.6">1</text>
<rect x="205.54" y="103.32" width="10.51" height="3.48" fill="#6fff90"/>
<text x="210.77" y="105.98" font-size="2.6" text-anchor="middle" font-weight="normal" fill="#124" opacity="0.6">1</text>
<text x="162.70" y="109.46" font-size="2.9" text-anchor="end" font-weight="normal" fill="#111">10.8</text>
<rect x="163.70" y="106.75" width="10.51" height="3.48" fill="#00bcff"/>
<text x="168.93" y="109.41" font-size="2.6" text-anchor="middle" font-weight="normal" fill="#124" opacity="0.6">16</text>
<rect x="174.16" y="106.75" width="10.51" height="3.48" fill="#00c8ff"/>
<text x="179.39" y="109.41" font-size="2.6" text-anchor="middle" font-weight="normal" fill="#124" opacity="0.6">15</text>
<rect x="184.62" y="106.75" width="10.51" height="3.48" fill="#3fffc0"/>
<text x="189.85" y="109.41" font-size="2.6" text-anchor="middle" font-weight="normal" fill="#124" opacity="0.6">5</text>
<rect x="195.08" y="106.75" width="10.51" height="3.48" fill="#6fff90"/>
<text x="200.31" y="109.41" font-size="2.6" text-anchor="middle" font-weight="normal" fill="#124" opacity="0.6">1</text>
<rect x="205.54" y="106.75" width="10.51" height="3.48" fill="#6fff90"/>
<text x="210.77" y="109.41" font-size="2.6" text-anchor="middle" font-weight="normal" fill="#124" opacity="0.6">1</text>
<text x="162.70" y="112.89" font-size="2.9" text-anchor="end" font-weight="normal" fill="#111">15.8</text>
<rect x="163.70" y="110.18" width="10.51" height="3.48" fill="#1cffe3"/>
<text x="168.93" y="112.84" font-size="2.6" text-anchor="middle" font-weight="normal" fill="#124" opacity="0.6">8</text>
<rect x="174.16" y="110.18" width="10.51" height="3.48" fill="#04fffb"/>
<text x="179.39" y="112.84" font-size="2.6" text-anchor="middle" font-weight="normal" fill="#124" opacity="0.6">10</text>
<rect x="184.62" y="110.18" width="10.51" height="3.48" fill="#57ffa8"/>
<text x="189.85" y="112.84" font-size="2.6" text-anchor="middle" font-weight="normal" fill="#124" opacity="0.6">3</text>
<rect x="195.08" y="110.18" width="10.51" height="3.48" fill="#6fff90"/>
<text x="200.31" y="112.84" font-size="2.6" text-anchor="middle" font-weight="normal" fill="#124" opacity="0.6">1</text>
<rect x="205.54" y="110.18" width="10.51" height="3.48" fill="#7aff85"/>
<text x="210.77" y="112.84" font-size="2.6" text-anchor="middle" font-weight="normal" fill="#124" opacity="0.6">0</text>
<text x="162.70" y="116.32" font-size="2.9" text-anchor="end" font-weight="normal" fill="#111">23.2</text>
<rect x="163.70" y="113.61" width="10.51" height="3.48" fill="#4bffb4"/>
<text x="168.93" y="116.27" font-size="2.6" text-anchor="middle" font-weight="normal" fill="#124" opacity="0.6">4</text>
<rect x="174.16" y="113.61" width="10.51" height="3.48" fill="#4bffb4"/>
<text x="179.39" y="116.27" font-size="2.6" text-anchor="middle" font-weight="normal" fill="#124" opacity="0.6">4</text>
<rect x="184.62" y="113.61" width="10.51" height="3.48" fill="#63ff9c"/>
<text x="189.85" y="116.27" font-size="2.6" text-anchor="middle" font-weight="normal" fill="#124" opacity="0.6">2</text>
<rect x="195.08" y="113.61" width="10.51" height="3.48" fill="#7aff85"/>
<text x="200.31" y="116.27" font-size="2.6" text-anchor="middle" font-weight="normal" fill="#124" opacity="0.6">0</text>
<rect x="205.54" y="113.61" width="10.51" height="3.48" fill="#7aff85"/>
<text x="210.77" y="116.27" font-size="2.6" text-anchor="middle" font-weight="normal" fill="#124" opacity="0.6">0</text>
<text x="162.70" y="119.75" font-size="2.9" text-anchor="end" font-weight="normal" fill="#111">34.1</text>
<rect x="163.70" y="117.04" width="10.51" height="3.48" fill="#63ff9c"/>
<text x="168.93" y="119.70" font-size="2.6" text-anchor="middle" font-weight="normal" fill="#124" opacity="0.6">2</text>
<rect x="174.16" y="117.04" width="10.51" height="3.48" fill="#57ffa8"/>
<text x="179.39" y="119.70" font-size="2.6" text-anchor="middle" font-weight="normal" fill="#124" opacity="0.6">3</text>
<rect x="184.62" y="117.04" width="10.51" height="3.48" fill="#6fff90"/>
<text x="189.85" y="119.70" font-size="2.6" text-anchor="middle" font-weight="normal" fill="#124" opacity="0.6">1</text>
<rect x="195.08" y="117.04" width="10.51" height="3.48" fill="#7aff85"/>
<text x="200.31" y="119.70" font-size="2.6" text-anchor="middle" font-weight="normal" fill="#124" opacity="0.6">0</text>
<rect x="205.54" y="117.04" width="10.51" height="3.48" fill="#7aff85"/>
<text x="210.77" y="119.70" font-size="2.6" text-anchor="middle" font-weight="normal" fill="#124" opacity="0.6">0</text>
<text x="162.70" y="123.18" font-size="2.9" text-anchor="end" font-weight="normal" fill="#111">50</text>
<rect x="163.70" y="120.47" width="10.51" height="3.48" fill="#6fff90"/>
<text x="168.93" y="123.13" font-size="2.6" text-anchor="middle" font-weight="normal" fill="#124" opacity="0.6">1</text>
<rect x="174.16" y="120.47" width="10.51" height="3.48" fill="#6fff90"/>
<text x="179.39" y="123.13" font-size="2.6" text-anchor="middle" font-weight="normal" fill="#124" opacity="0.6">1</text>
<rect x="184.62" y="120.47" width="10.51" height="3.48" fill="#7aff85"/>
<text x="189.85" y="123.13" font-size="2.6" text-anchor="middle" font-weight="normal" fill="#124" opacity="0.6">0</text>
<rect x="195.08" y="120.47" width="10.51" height="3.48" fill="#86ff79"/>
<text x="200.31" y="123.13" font-size="2.6" text-anchor="middle" font-weight="normal" fill="#124" opacity="0.6">-1</text>
<rect x="205.54" y="120.47" width="10.51" height="3.48" fill="#86ff79"/>
<text x="210.77" y="123.13" font-size="2.6" text-anchor="middle" font-weight="normal" fill="#124" opacity="0.6">-1</text>
<line x1="163.70" y1="79.30" x2="163.70" y2="123.90" stroke="#1a2a3a" stroke-width="0.28" opacity="0.7"/>
<line x1="174.16" y1="79.30" x2="174.16" y2="123.90" stroke="#1a2a3a" stroke-width="0.28" opacity="0.7"/>
<line x1="184.62" y1="79.30" x2="184.62" y2="123.90" stroke="#1a2a3a" stroke-width="0.28" opacity="0.7"/>
<line x1="195.08" y1="79.30" x2="195.08" y2="123.90" stroke="#1a2a3a" stroke-width="0.28" opacity="0.7"/>
<line x1="205.54" y1="79.30" x2="205.54" y2="123.90" stroke="#1a2a3a" stroke-width="0.28" opacity="0.7"/>
<line x1="216.00" y1="79.30" x2="216.00" y2="123.90" stroke="#1a2a3a" stroke-width="0.28" opacity="0.7"/>
<line x1="163.70" y1="79.30" x2="216.00" y2="79.30" stroke="#1a2a3a" stroke-width="0.28" opacity="0.7"/>
<line x1="163.70" y1="82.73" x2="216.00" y2="82.73" stroke="#1a2a3a" stroke-width="0.28" opacity="0.7"/>
<line x1="163.70" y1="86.16" x2="216.00" y2="86.16" stroke="#1a2a3a" stroke-width="0.28" opacity="0.7"/>
<line x1="163.70" y1="89.59" x2="216.00" y2="89.59" stroke="#1a2a3a" stroke-width="0.28" opacity="0.7"/>
<line x1="163.70" y1="93.02" x2="216.00" y2="93.02" stroke="#1a2a3a" stroke-width="0.28" opacity="0.7"/>
<line x1="163.70" y1="96.45" x2="216.00" y2="96.45" stroke="#1a2a3a" stroke-width="0.28" opacity="0.7"/>
<line x1="163.70" y1="99.88" x2="216.00" y2="99.88" stroke="#1a2a3a" stroke-width="0.28" opacity="0.7"/>
<line x1="163.70" y1="103.32" x2="216.00" y2="103.32" stroke="#1a2a3a" stroke-width="0.28" opacity="0.7"/>
<line x1="163.70" y1="106.75" x2="216.00" y2="106.75" stroke="#1a2a3a" stroke-width="0.28" opacity="0.7"/>
<line x1="163.70" y1="110.18" x2="216.00" y2="110.18" stroke="#1a2a3a" stroke-width="0.28" opacity="0.7"/>
<line x1="163.70" y1="113.61" x2="216.00" y2="113.61" stroke="#1a2a3a" stroke-width="0.28" opacity="0.7"/>
<line x1="163.70" y1="117.04" x2="216.00" y2="117.04" stroke="#1a2a3a" stroke-width="0.28" opacity="0.7"/>
<line x1="163.70" y1="120.47" x2="216.00" y2="120.47" stroke="#1a2a3a" stroke-width="0.28" opacity="0.7"/>
<line x1="163.70" y1="123.90" x2="216.00" y2="123.90" stroke="#1a2a3a" stroke-width="0.28" opacity="0.7"/>
<rect x="218.30" y="79.30" width="4.50" height="44.60" fill="url(#jet)" stroke="#333" stroke-width="0.2"/>
<text x="225.80" y="89.80" font-size="2.9" text-anchor="middle" font-weight="normal" fill="#111" transform="rotate(-90 225.80 89.80)" stroke="#111" stroke-width="0.080">Synergy</text>
<text x="225.80" y="112.40" font-size="2.9" text-anchor="middle" font-weight="normal" fill="#111" transform="rotate(-90 225.80 112.40)" stroke="#111" stroke-width="0.080">Antagonism</text>
<text x="189.35" y="127.10" font-size="3.25" text-anchor="middle" font-weight="bold" fill="#111" stroke="#111" stroke-width="0.114">Bliss synergy and antagonism</text>
<text x="191.35" y="130.20" font-size="2.8" text-anchor="middle" font-weight="bold" fill="#111" stroke="#111" stroke-width="0.098">H1703-Day4</text>
<text x="143.00" y="35.00" font-size="7.6" text-anchor="middle" font-weight="bold" fill="#000" transform="rotate(-90 143.00 35.00)" stroke="#000" stroke-width="0.266" textLength="18.20" lengthAdjust="spacingAndGlyphs">A549</text>
<line x1="144.30" y1="25.80" x2="144.30" y2="44.20" stroke="#000" stroke-width="0.55"/>
<text x="153.20" y="35.40" font-size="5.7" text-anchor="middle" font-weight="bold" fill="#000" transform="rotate(-90 153.20 35.40)" stroke="#000" stroke-width="0.200" textLength="42.00" lengthAdjust="spacingAndGlyphs">ZL-2201 (µmol/L)</text>
<text x="143.80" y="99.00" font-size="7.6" text-anchor="middle" font-weight="bold" fill="#000" transform="rotate(-90 143.80 99.00)" stroke="#000" stroke-width="0.266" textLength="26.50" lengthAdjust="spacingAndGlyphs">H1703</text>
<line x1="145.20" y1="85.60" x2="145.20" y2="112.40" stroke="#000" stroke-width="0.55"/>
<text x="153.90" y="101.50" font-size="5.7" text-anchor="middle" font-weight="bold" fill="#000" transform="rotate(-90 153.90 101.50)" stroke="#000" stroke-width="0.200" textLength="42.00" lengthAdjust="spacingAndGlyphs">ZL-2201 (µmol/L)</text>
<path d="M255.57,19.07 C256.42,18.98 259.01,18.57 260.64,18.51 C262.26,18.45 263.76,18.70 265.33,18.70 C266.89,18.70 268.46,18.13 270.02,18.51 C271.58,18.88 273.46,20.07 274.71,20.95 C275.96,21.82 276.59,22.35 277.52,23.76 C278.46,25.17 279.56,27.36 280.34,29.39 C281.12,31.42 281.59,33.61 282.21,35.96 C282.84,38.30 283.53,41.12 284.09,43.46 C284.65,45.81 285.34,48.93 285.59,50.03" fill="none" stroke="#12c81a" stroke-width="0.75"/>
<rect x="254.67" y="18.73" width="1.80" height="1.80" fill="#12c81a"/>
<rect x="257.49" y="16.86" width="1.80" height="1.80" fill="#12c81a"/>
<rect x="259.74" y="17.61" width="1.80" height="1.80" fill="#12c81a"/>
<rect x="264.43" y="18.17" width="1.80" height="1.80" fill="#12c81a"/>
<rect x="269.12" y="17.23" width="1.80" height="1.80" fill="#12c81a"/>
<rect x="271.93" y="20.05" width="1.80" height="1.80" fill="#12c81a"/>
<rect x="274.75" y="20.61" width="1.80" height="1.80" fill="#12c81a"/>
<rect x="277.56" y="23.80" width="1.80" height="1.80" fill="#12c81a"/>
<rect x="280.00" y="34.12" width="1.80" height="1.80" fill="#12c81a"/>
<rect x="282.63" y="44.44" width="1.80" height="1.80" fill="#12c81a"/>
<rect x="284.69" y="49.69" width="1.80" height="1.80" fill="#12c81a"/>
<path d="M255.57,17.76 C255.95,18.45 257.14,20.42 257.82,21.89 C258.51,23.36 259.07,25.01 259.70,26.58 C260.33,28.14 260.95,29.70 261.58,31.27 C262.20,32.83 262.83,34.39 263.45,35.96 C264.08,37.52 264.55,39.08 265.33,40.65 C266.11,42.21 267.20,44.02 268.14,45.34 C269.08,46.65 270.02,47.75 270.96,48.53 C271.89,49.31 272.68,49.68 273.77,50.03 C274.87,50.37 275.55,50.47 277.52,50.59 C279.49,50.72 284.25,50.75 285.59,50.78" fill="none" stroke="#c01424" stroke-width="0.75"/>
<polygon points="255.57,15.53 254.57,17.43 256.57,17.43" fill="#c01424"/>
<polygon points="257.82,19.85 256.82,21.75 258.82,21.75" fill="#c01424"/>
<polygon points="260.64,27.35 259.64,29.25 261.64,29.25" fill="#c01424"/>
<polygon points="262.51,29.23 261.51,31.13 263.51,31.13" fill="#c01424"/>
<polygon points="264.39,33.92 263.39,35.82 265.39,35.82" fill="#c01424"/>
<polygon points="267.20,37.67 266.20,39.57 268.20,39.57" fill="#c01424"/>
<polygon points="270.96,47.05 269.96,48.95 271.96,48.95" fill="#c01424"/>
<polygon points="274.71,48.93 273.71,50.83 275.71,50.83" fill="#c01424"/>
<polygon points="277.52,48.93 276.52,50.83 278.52,50.83" fill="#c01424"/>
<polygon points="280.34,48.93 279.34,50.83 281.34,50.83" fill="#c01424"/>
<polygon points="283.15,48.55 282.15,50.45 284.15,50.45" fill="#c01424"/>
<path d="M255.57,18.51 C256.10,18.45 257.76,17.88 258.76,18.13 C259.76,18.38 260.64,18.91 261.58,20.01 C262.51,21.10 263.45,22.82 264.39,24.70 C265.33,26.58 266.27,29.23 267.20,31.27 C268.14,33.30 269.08,35.33 270.02,36.89 C270.96,38.46 271.89,39.62 272.83,40.65 C273.77,41.68 274.71,42.40 275.65,43.09 C276.59,43.77 277.52,44.31 278.46,44.77 C279.40,45.24 280.09,45.59 281.28,45.90 C282.46,46.21 284.87,46.53 285.59,46.65" fill="none" stroke="#1020ff" stroke-width="0.75"/>
<circle cx="255.57" cy="18.13" r="1.0" fill="#1020ff"/>
<circle cx="257.82" cy="16.63" r="1.0" fill="#1020ff"/>
<circle cx="263.45" cy="21.51" r="1.0" fill="#1020ff"/>
<circle cx="266.27" cy="24.70" r="1.0" fill="#1020ff"/>
<circle cx="268.14" cy="33.52" r="1.0" fill="#1020ff"/>
<circle cx="270.02" cy="38.40" r="1.0" fill="#1020ff"/>
<circle cx="272.83" cy="40.08" r="1.0" fill="#1020ff"/>
<circle cx="275.65" cy="40.65" r="1.0" fill="#1020ff"/>
<circle cx="278.46" cy="41.59" r="1.0" fill="#1020ff"/>
<circle cx="280.34" cy="45.34" r="1.0" fill="#1020ff"/>
<circle cx="283.53" cy="44.40" r="1.0" fill="#1020ff"/>
<circle cx="285.59" cy="47.21" r="1.0" fill="#1020ff"/>
<line x1="248.20" y1="9.80" x2="248.20" y2="51.40" stroke="#2a2a2a" stroke-width="0.85"/>
<line x1="247.80" y1="51.00" x2="293.20" y2="51.00" stroke="#2a2a2a" stroke-width="0.85"/>
<line x1="246.60" y1="16.30" x2="248.20" y2="16.30" stroke="#2a2a2a" stroke-width="0.7"/>
<text x="246.00" y="17.55" font-size="3.5" text-anchor="end" font-weight="bold" fill="#000" stroke="#000" stroke-width="0.123">100</text>
<line x1="246.60" y1="33.65" x2="248.20" y2="33.65" stroke="#2a2a2a" stroke-width="0.7"/>
<text x="246.00" y="34.90" font-size="3.5" text-anchor="end" font-weight="bold" fill="#000" stroke="#000" stroke-width="0.123">50</text>
<line x1="246.60" y1="51.00" x2="248.20" y2="51.00" stroke="#2a2a2a" stroke-width="0.7"/>
<text x="246.00" y="52.25" font-size="3.5" text-anchor="end" font-weight="bold" fill="#000" stroke="#000" stroke-width="0.123">0</text>
<line x1="255.30" y1="51.00" x2="255.30" y2="52.60" stroke="#2a2a2a" stroke-width="0.7"/>
<text x="255.30" y="56.20" font-size="3.5" text-anchor="middle" font-weight="bold" fill="#000" stroke="#000" stroke-width="0.123">-2</text>
<line x1="270.20" y1="51.00" x2="270.20" y2="52.60" stroke="#2a2a2a" stroke-width="0.7"/>
<text x="270.20" y="56.20" font-size="3.5" text-anchor="middle" font-weight="bold" fill="#000" stroke="#000" stroke-width="0.123">0</text>
<line x1="285.10" y1="51.00" x2="285.10" y2="52.60" stroke="#2a2a2a" stroke-width="0.7"/>
<text x="285.10" y="56.20" font-size="3.5" text-anchor="middle" font-weight="bold" fill="#000" stroke="#000" stroke-width="0.123">2</text>
<text x="238.20" y="30.90" font-size="4.9" text-anchor="middle" font-weight="bold" fill="#000" transform="rotate(-90 238.20 30.90)" stroke="#000" stroke-width="0.172">Cell growth (%)</text>
<text x="270.30" y="62.90" font-size="4.1" text-anchor="middle" font-weight="bold" fill="#000" stroke="#000" stroke-width="0.143">log ZL-2201 (µmol/L)</text>
<path d="M251.26,81.39 C251.73,81.14 252.98,80.29 254.07,79.89 C255.17,79.48 256.57,79.04 257.82,78.95 C259.07,78.85 260.33,79.01 261.58,79.32 C262.83,79.64 264.08,80.04 265.33,80.82 C266.58,81.61 267.99,82.76 269.08,84.01 C270.18,85.26 270.96,86.67 271.89,88.33 C272.83,89.99 273.83,91.92 274.71,93.96 C275.58,95.99 276.37,98.43 277.15,100.52 C277.93,102.62 278.65,105.03 279.40,106.53 C280.15,108.03 280.87,108.90 281.65,109.53 C282.43,110.15 283.68,110.15 284.09,110.28" fill="none" stroke="#12c81a" stroke-width="0.75"/>
<rect x="250.73" y="80.49" width="1.80" height="1.80" fill="#12c81a"/>
<rect x="253.17" y="75.23" width="1.80" height="1.80" fill="#12c81a"/>
<rect x="255.61" y="80.86" width="1.80" height="1.80" fill="#12c81a"/>
<rect x="258.80" y="78.05" width="1.80" height="1.80" fill="#12c81a"/>
<rect x="262.55" y="79.92" width="1.80" height="1.80" fill="#12c81a"/>
<rect x="267.24" y="83.11" width="1.80" height="1.80" fill="#12c81a"/>
<rect x="269.68" y="84.99" width="1.80" height="1.80" fill="#12c81a"/>
<rect x="272.50" y="89.30" width="1.80" height="1.80" fill="#12c81a"/>
<rect x="275.12" y="96.81" width="1.80" height="1.80" fill="#12c81a"/>
<rect x="277.56" y="104.31" width="1.80" height="1.80" fill="#12c81a"/>
<rect x="280.38" y="108.07" width="1.80" height="1.80" fill="#12c81a"/>
<rect x="283.19" y="109.00" width="1.80" height="1.80" fill="#12c81a"/>
<path d="M251.26,72.38 C251.51,73.63 252.20,77.07 252.76,79.89 C253.32,82.70 254.01,86.45 254.63,89.27 C255.26,92.08 255.88,94.58 256.51,96.77 C257.14,98.96 257.70,100.68 258.39,102.40 C259.07,104.12 259.79,105.96 260.64,107.09 C261.48,108.22 262.36,108.68 263.45,109.15 C264.55,109.62 263.76,109.72 267.20,109.90 C270.64,110.09 281.28,110.22 284.09,110.28" fill="none" stroke="#c01424" stroke-width="0.75"/>
<polygon points="251.26,72.22 250.26,74.12 252.26,74.12" fill="#c01424"/>
<polygon points="255.95,91.92 254.95,93.82 256.95,93.82" fill="#c01424"/>
<polygon points="259.70,105.99 258.70,107.89 260.70,107.89" fill="#c01424"/>
<polygon points="262.51,106.93 261.51,108.83 263.51,108.83" fill="#c01424"/>
<polygon points="265.33,108.80 264.33,110.70 266.33,110.70" fill="#c01424"/>
<polygon points="268.14,108.80 267.14,110.70 269.14,110.70" fill="#c01424"/>
<polygon points="270.96,108.80 269.96,110.70 271.96,110.70" fill="#c01424"/>
<polygon points="273.77,108.80 272.77,110.70 274.77,110.70" fill="#c01424"/>
<polygon points="276.59,108.80 275.59,110.70 277.59,110.70" fill="#c01424"/>
<polygon points="279.40,108.43 278.40,110.33 280.40,110.33" fill="#c01424"/>
<polygon points="282.21,108.80 281.21,110.70 283.21,110.70" fill="#c01424"/>
<path d="M251.26,77.63 C251.88,77.76 253.76,78.17 255.01,78.38 C256.26,78.60 257.67,78.63 258.76,78.95 C259.86,79.26 260.64,79.23 261.58,80.26 C262.51,81.29 263.55,83.17 264.39,85.14 C265.23,87.11 265.92,89.83 266.64,92.08 C267.36,94.33 267.99,96.86 268.71,98.65 C269.42,100.43 270.11,101.68 270.96,102.77 C271.80,103.87 272.83,104.59 273.77,105.21 C274.71,105.84 275.65,106.06 276.59,106.53 C277.52,107.00 278.15,107.47 279.40,108.03 C280.65,108.59 283.31,109.59 284.09,109.90" fill="none" stroke="#1020ff" stroke-width="0.75"/>
<circle cx="251.26" cy="77.63" r="1.0" fill="#1020ff"/>
<circle cx="253.51" cy="75.76" r="1.0" fill="#1020ff"/>
<circle cx="256.51" cy="78.95" r="1.0" fill="#1020ff"/>
<circle cx="259.70" cy="78.01" r="1.0" fill="#1020ff"/>
<circle cx="262.14" cy="80.82" r="1.0" fill="#1020ff"/>
<circle cx="264.39" cy="81.76" r="1.0" fill="#1020ff"/>
<circle cx="267.20" cy="95.27" r="1.0" fill="#1020ff"/>
<circle cx="270.02" cy="102.40" r="1.0" fill="#1020ff"/>
<circle cx="272.83" cy="104.28" r="1.0" fill="#1020ff"/>
<circle cx="275.65" cy="105.21" r="1.0" fill="#1020ff"/>
<circle cx="278.46" cy="106.53" r="1.0" fill="#1020ff"/>
<circle cx="281.28" cy="109.90" r="1.0" fill="#1020ff"/>
<circle cx="283.53" cy="109.90" r="1.0" fill="#1020ff"/>
<line x1="248.80" y1="68.00" x2="248.80" y2="110.70" stroke="#2a2a2a" stroke-width="0.85"/>
<line x1="248.40" y1="110.30" x2="293.20" y2="110.30" stroke="#2a2a2a" stroke-width="0.85"/>
<line x1="247.20" y1="75.20" x2="248.80" y2="75.20" stroke="#2a2a2a" stroke-width="0.7"/>
<text x="246.60" y="76.45" font-size="3.5" text-anchor="end" font-weight="bold" fill="#000" stroke="#000" stroke-width="0.123">100</text>
<line x1="247.20" y1="92.75" x2="248.80" y2="92.75" stroke="#2a2a2a" stroke-width="0.7"/>
<text x="246.60" y="94.00" font-size="3.5" text-anchor="end" font-weight="bold" fill="#000" stroke="#000" stroke-width="0.123">50</text>
<line x1="247.20" y1="110.30" x2="248.80" y2="110.30" stroke="#2a2a2a" stroke-width="0.7"/>
<text x="246.60" y="111.55" font-size="3.5" text-anchor="end" font-weight="bold" fill="#000" stroke="#000" stroke-width="0.123">0</text>
<line x1="255.80" y1="110.30" x2="255.80" y2="111.90" stroke="#2a2a2a" stroke-width="0.7"/>
<text x="255.80" y="115.50" font-size="3.5" text-anchor="middle" font-weight="bold" fill="#000" stroke="#000" stroke-width="0.123">-2</text>
<line x1="271.00" y1="110.30" x2="271.00" y2="111.90" stroke="#2a2a2a" stroke-width="0.7"/>
<text x="271.00" y="115.50" font-size="3.5" text-anchor="middle" font-weight="bold" fill="#000" stroke="#000" stroke-width="0.123">0</text>
<line x1="286.20" y1="110.30" x2="286.20" y2="111.90" stroke="#2a2a2a" stroke-width="0.7"/>
<text x="286.20" y="115.50" font-size="3.5" text-anchor="middle" font-weight="bold" fill="#000" stroke="#000" stroke-width="0.123">2</text>
<text x="238.20" y="89.65" font-size="4.9" text-anchor="middle" font-weight="bold" fill="#000" transform="rotate(-90 238.20 89.65)" stroke="#000" stroke-width="0.172">Cell growth (%)</text>
<text x="270.30" y="121.80" font-size="4.1" text-anchor="middle" font-weight="bold" fill="#000" stroke="#000" stroke-width="0.143">log ZL-2201 (µmol/L)</text>
<text x="324.80" y="8.80" font-size="4.3" font-weight="bold" stroke="#000" stroke-width="0.12">IC<tspan font-size="2.9" dy="1.0">50</tspan><tspan dy="-1.0"> (µmol/L)</tspan></text>
<line x1="289.60" y1="12.70" x2="293.20" y2="12.70" stroke="#12c81a" stroke-width="0.6"/>
<rect x="290.60" y="11.90" width="1.60" height="1.60" fill="#12c81a"/>
<line x1="289.60" y1="19.60" x2="293.20" y2="19.60" stroke="#c01424" stroke-width="0.6"/>
<polygon points="291.4,18.60 290.5,20.30 292.3,20.30" fill="#c01424"/>
<line x1="289.60" y1="29.60" x2="293.20" y2="29.60" stroke="#1020ff" stroke-width="0.6"/>
<circle cx="291.4" cy="29.60" r="0.9" fill="#1020ff"/>
<text x="297.20" y="13.90" font-size="4.3" text-anchor="start" font-weight="bold" fill="#000" stroke="#000" stroke-width="0.150">ZL-2201</text>
<text x="297.20" y="20.80" font-size="4.3" text-anchor="start" font-weight="bold" fill="#000" stroke="#000" stroke-width="0.150">Doxorubicin</text>
<text x="297.20" y="25.80" font-size="4.3" text-anchor="start" font-weight="bold" fill="#000" stroke="#000" stroke-width="0.150">Combo</text>
<text x="297.20" y="30.80" font-size="4.3" text-anchor="start" font-weight="bold" fill="#000" stroke="#000" stroke-width="0.150">(Dox@</text>
<text x="297.20" y="35.80" font-size="4.3" text-anchor="start" font-weight="bold" fill="#000" stroke="#000" stroke-width="0.150">0.006µmol/L)</text>
<text x="326.80" y="13.60" font-size="4.0" text-anchor="start" font-weight="bold" fill="#000" stroke="#000" stroke-width="0.140">39.64</text>
<text x="326.80" y="20.80" font-size="4.0" text-anchor="start" font-weight="bold" fill="#000" stroke="#000" stroke-width="0.140">0.12</text>
<text x="326.80" y="30.80" font-size="4.0" text-anchor="start" font-weight="bold" fill="#000" stroke="#000" stroke-width="0.140">0.48</text>
<text x="326.60" y="68.40" font-size="4.3" font-weight="bold" stroke="#000" stroke-width="0.12">IC<tspan font-size="2.9" dy="1.0">50</tspan><tspan dy="-1.0"> (µmol/L)</tspan></text>
<line x1="289.60" y1="73.40" x2="293.20" y2="73.40" stroke="#12c81a" stroke-width="0.6"/>
<rect x="290.60" y="72.60" width="1.60" height="1.60" fill="#12c81a"/>
<line x1="289.60" y1="79.40" x2="293.20" y2="79.40" stroke="#c01424" stroke-width="0.6"/>
<polygon points="291.4,78.40 290.5,80.10 292.3,80.10" fill="#c01424"/>
<line x1="289.60" y1="90.20" x2="293.20" y2="90.20" stroke="#1020ff" stroke-width="0.6"/>
<circle cx="291.4" cy="90.20" r="0.9" fill="#1020ff"/>
<text x="297.20" y="74.60" font-size="4.3" text-anchor="start" font-weight="bold" fill="#000" stroke="#000" stroke-width="0.150">ZL-2201</text>
<text x="297.20" y="80.60" font-size="4.3" text-anchor="start" font-weight="bold" fill="#000" stroke="#000" stroke-width="0.150">Doxorubicin</text>
<text x="297.20" y="85.80" font-size="4.3" text-anchor="start" font-weight="bold" fill="#000" stroke="#000" stroke-width="0.150">Combo</text>
<text x="297.20" y="91.40" font-size="4.3" text-anchor="start" font-weight="bold" fill="#000" stroke="#000" stroke-width="0.150">(Dox@</text>
<text x="297.20" y="96.60" font-size="4.3" text-anchor="start" font-weight="bold" fill="#000" stroke="#000" stroke-width="0.150">0.006µmol/L)</text>
<text x="329.20" y="72.60" font-size="4.0" text-anchor="start" font-weight="bold" fill="#000" stroke="#000" stroke-width="0.140">3.8</text>
<text x="329.20" y="80.60" font-size="4.0" text-anchor="start" font-weight="bold" fill="#000" stroke="#000" stroke-width="0.140">0.004</text>
<text x="329.20" y="90.40" font-size="4.0" text-anchor="start" font-weight="bold" fill="#000" stroke="#000" stroke-width="0.140">0.31</text>
</g>
<g id="panelC">
<text x="359.80" y="9.60" font-size="7.6" text-anchor="start" font-weight="bold" fill="#000" stroke="#000" stroke-width="0.266">C</text>
<text x="420.00" y="9.00" font-size="5.2" text-anchor="middle" font-weight="bold" fill="#000" stroke="#000" stroke-width="0.182">H1703</text>
<line x1="411.40" y1="10.20" x2="428.60" y2="10.20" stroke="#000" stroke-width="0.5"/>
<text x="369.40" y="16.80" font-size="4.0" text-anchor="middle" font-weight="bold" fill="#000" stroke="#000" stroke-width="0.140">-</text>
<text x="369.60" y="26.40" font-size="4.1" text-anchor="middle" font-weight="normal" fill="#111" stroke="#111" stroke-width="0.100">-</text>
<text x="378.97" y="16.80" font-size="4.0" text-anchor="middle" font-weight="bold" fill="#000" stroke="#000" stroke-width="0.140">+</text>
<text x="378.92" y="26.40" font-size="4.1" text-anchor="middle" font-weight="normal" fill="#111" stroke="#111" stroke-width="0.100">-</text>
<text x="388.54" y="16.80" font-size="4.0" text-anchor="middle" font-weight="bold" fill="#000" stroke="#000" stroke-width="0.140">-</text>
<text x="388.24" y="26.40" font-size="4.1" text-anchor="middle" font-weight="normal" fill="#111" stroke="#111" stroke-width="0.100">0.1</text>
<text x="398.11" y="16.80" font-size="4.0" text-anchor="middle" font-weight="bold" fill="#000" stroke="#000" stroke-width="0.140">-</text>
<text x="397.56" y="26.40" font-size="4.1" text-anchor="middle" font-weight="normal" fill="#111" stroke="#111" stroke-width="0.100">0.3</text>
<text x="407.68" y="16.80" font-size="4.0" text-anchor="middle" font-weight="bold" fill="#000" stroke="#000" stroke-width="0.140">-</text>
<text x="406.88" y="26.40" font-size="4.1" text-anchor="middle" font-weight="normal" fill="#111" stroke="#111" stroke-width="0.100">0.5</text>
<text x="417.25" y="16.80" font-size="4.0" text-anchor="middle" font-weight="bold" fill="#000" stroke="#000" stroke-width="0.140">-</text>
<text x="416.20" y="26.40" font-size="4.1" text-anchor="middle" font-weight="normal" fill="#111" stroke="#111" stroke-width="0.100">1.0</text>
<text x="426.82" y="16.80" font-size="4.0" text-anchor="middle" font-weight="bold" fill="#000" stroke="#000" stroke-width="0.140">-</text>
<text x="425.52" y="26.40" font-size="4.1" text-anchor="middle" font-weight="normal" fill="#111" stroke="#111" stroke-width="0.100">3.6</text>
<text x="436.39" y="16.80" font-size="4.0" text-anchor="middle" font-weight="bold" fill="#000" stroke="#000" stroke-width="0.140">+</text>
<text x="434.84" y="26.40" font-size="4.1" text-anchor="middle" font-weight="normal" fill="#111" stroke="#111" stroke-width="0.100">0.1</text>
<text x="445.96" y="16.80" font-size="4.0" text-anchor="middle" font-weight="bold" fill="#000" stroke="#000" stroke-width="0.140">+</text>
<text x="444.16" y="26.40" font-size="4.1" text-anchor="middle" font-weight="normal" fill="#111" stroke="#111" stroke-width="0.100">0.3</text>
<text x="455.53" y="16.80" font-size="4.0" text-anchor="middle" font-weight="bold" fill="#000" stroke="#000" stroke-width="0.140">+</text>
<text x="453.48" y="26.40" font-size="4.1" text-anchor="middle" font-weight="normal" fill="#111" stroke="#111" stroke-width="0.100">0.5</text>
<text x="465.10" y="16.80" font-size="4.0" text-anchor="middle" font-weight="bold" fill="#000" stroke="#000" stroke-width="0.140">+</text>
<text x="462.80" y="26.40" font-size="4.1" text-anchor="middle" font-weight="normal" fill="#111" stroke="#111" stroke-width="0.100">1.0</text>
<text x="474.67" y="16.80" font-size="4.0" text-anchor="middle" font-weight="bold" fill="#000" stroke="#000" stroke-width="0.140">+</text>
<text x="472.12" y="26.40" font-size="4.1" text-anchor="middle" font-weight="normal" fill="#111" stroke="#111" stroke-width="0.100">3.6</text>
<text x="480.20" y="16.60" font-size="4.4" text-anchor="start" font-weight="bold" fill="#000" stroke="#000" stroke-width="0.154">Dox (0.006 µmol/L)</text>
<text x="479.40" y="25.60" font-size="4.4" text-anchor="start" font-weight="bold" fill="#000" stroke="#000" stroke-width="0.154">ZL-2201 (µmol/L)</text>
<text x="481.00" y="34.60" font-size="4.4" text-anchor="start" font-weight="bold" fill="#000" stroke="#000" stroke-width="0.154">pDNA-PK (S2056)</text>
<text x="481.00" y="45.60" font-size="4.4" text-anchor="start" font-weight="bold" fill="#000" stroke="#000" stroke-width="0.154">DNA-PK</text>
<text x="481.00" y="57.00" font-size="4.4" text-anchor="start" font-weight="bold" fill="#000" stroke="#000" stroke-width="0.154">GAPDH</text>
<rect x="364.20" y="28.40" width="114.10" height="8.90" fill="#f2f2f2"/>
<rect x="364.20" y="39.30" width="114.10" height="9.40" fill="#e4e4e4"/>
<rect x="364.20" y="50.30" width="114.10" height="10.30" fill="#ececec"/>
<rect x="365.40" y="31.50" width="7.8" height="3.4" fill="#dedede" filter="url(#b3)"/>
<rect x="374.53" y="30.90" width="8.4" height="4.4" fill="#343434" filter="url(#b3)"/>
<rect x="374.83" y="31.60" width="7.8" height="3.0" fill="#2a2a2a" filter="url(#b2)"/>
<rect x="384.26" y="31.70" width="7.8" height="3.0" fill="#e6e6e6" filter="url(#b3)"/>
<rect x="393.69" y="31.20" width="7.8" height="3.6" fill="#dcdcdc" filter="url(#b3)"/>
<rect x="403.12" y="31.10" width="7.8" height="4.2" fill="#c6c6c6" filter="url(#b3)"/>
<rect x="412.55" y="31.20" width="7.8" height="3.6" fill="#dadada" filter="url(#b3)"/>
<rect x="421.98" y="30.10" width="7.8" height="3.4" fill="#b6b6b6" filter="url(#b3)"/>
<rect x="431.41" y="31.30" width="7.8" height="3.4" fill="#dcdcdc" filter="url(#b3)"/>
<rect x="440.84" y="30.80" width="7.8" height="4.4" fill="#c4c4c4" filter="url(#b3)"/>
<rect x="450.27" y="29.50" width="7.8" height="4.0" fill="#bebebe" filter="url(#b3)"/>
<rect x="459.70" y="31.50" width="7.8" height="3.0" fill="#ececec" filter="url(#b3)"/>
<rect x="469.13" y="31.20" width="7.8" height="3.6" fill="#e0e0e0" filter="url(#b3)"/>
<rect x="365.30" y="42.20" width="8.0" height="3.6" fill="#606060" filter="url(#b2)"/>
<rect x="374.73" y="42.50" width="8.0" height="4.2" fill="#484848" filter="url(#b2)"/>
<rect x="384.16" y="43.20" width="8.0" height="2.8" fill="#5a5a5a" filter="url(#b2)"/>
<rect x="393.59" y="42.40" width="8.0" height="3.0" fill="#5e5e5e" filter="url(#b2)"/>
<rect x="403.02" y="42.20" width="8.0" height="4.0" fill="#525252" filter="url(#b2)"/>
<rect x="412.45" y="41.40" width="8.0" height="5.0" fill="#3c3c3c" filter="url(#b2)"/>
<rect x="421.88" y="42.40" width="8.0" height="3.2" fill="#5a5a5a" filter="url(#b2)"/>
<rect x="431.31" y="42.60" width="8.0" height="3.8" fill="#525252" filter="url(#b2)"/>
<rect x="440.74" y="43.30" width="8.0" height="2.8" fill="#5e5e5e" filter="url(#b2)"/>
<rect x="450.17" y="40.90" width="8.0" height="4.4" fill="#464646" filter="url(#b2)"/>
<rect x="459.60" y="41.70" width="8.0" height="3.6" fill="#4e4e4e" filter="url(#b2)"/>
<rect x="469.03" y="42.60" width="8.0" height="4.8" fill="#444444" filter="url(#b2)"/>
<rect x="365.20" y="53.20" width="8.2" height="4.4" rx="0.8" fill="#101010" filter="url(#b2)"/>
<rect x="374.63" y="54.00" width="8.2" height="4.4" rx="0.8" fill="#101010" filter="url(#b2)"/>
<rect x="384.06" y="53.30" width="8.2" height="4.4" rx="0.8" fill="#101010" filter="url(#b2)"/>
<rect x="393.49" y="53.10" width="8.2" height="4.4" rx="0.8" fill="#101010" filter="url(#b2)"/>
<rect x="402.92" y="53.50" width="8.2" height="4.4" rx="0.8" fill="#101010" filter="url(#b2)"/>
<rect x="412.35" y="53.10" width="8.2" height="4.4" rx="0.8" fill="#101010" filter="url(#b2)"/>
<rect x="421.78" y="53.70" width="8.2" height="4.4" rx="0.8" fill="#101010" filter="url(#b2)"/>
<rect x="431.21" y="53.70" width="8.2" height="4.4" rx="0.8" fill="#101010" filter="url(#b2)"/>
<rect x="440.64" y="53.70" width="8.2" height="4.4" rx="0.8" fill="#101010" filter="url(#b2)"/>
<rect x="450.07" y="53.90" width="8.2" height="4.4" rx="0.8" fill="#101010" filter="url(#b2)"/>
<rect x="459.50" y="53.10" width="8.2" height="4.4" rx="0.8" fill="#101010" filter="url(#b2)"/>
<rect x="468.93" y="53.00" width="8.2" height="4.4" rx="0.8" fill="#101010" filter="url(#b2)"/>
<rect x="364.20" y="28.40" width="114.10" height="8.90" fill="none" stroke="#2a2a2a" stroke-width="0.7"/>
<rect x="364.20" y="39.30" width="114.10" height="9.40" fill="none" stroke="#2a2a2a" stroke-width="0.7"/>
<rect x="364.20" y="50.30" width="114.10" height="10.30" fill="none" stroke="#2a2a2a" stroke-width="0.7"/>
</g>
<g id="panelD">
<text x="1.20" y="144.40" font-size="7.6" text-anchor="start" font-weight="bold" fill="#000" stroke="#000" stroke-width="0.266">D</text>
<rect x="2.2" y="147.7" width="199.1" height="109.5" fill="#ffffff" stroke="#cfcfcf" stroke-width="0.6"/>
<text x="23.20" y="153.60" font-size="4.3" text-anchor="start" font-weight="bold" fill="#000" stroke="#000" stroke-width="0.150">72h</text>
<text x="110.30" y="154.00" font-size="5.3" text-anchor="middle" font-weight="bold" fill="#000" stroke="#000" stroke-width="0.185">H1703</text>
<line x1="101.60" y1="155.20" x2="119.00" y2="155.20" stroke="#000" stroke-width="0.5"/>
<rect x="39.60" y="163.50" width="155.80" height="68.20" fill="#f1f1f1"/>
<line x1="39.60" y1="231.70" x2="195.40" y2="231.70" stroke="#e4e4e4" stroke-width="0.3"/>
<text x="36.20" y="232.85" font-size="3.4" text-anchor="end" font-weight="normal" fill="#222">0%</text>
<line x1="39.60" y1="220.35" x2="195.40" y2="220.35" stroke="#e4e4e4" stroke-width="0.3"/>
<text x="36.20" y="221.50" font-size="3.4" text-anchor="end" font-weight="normal" fill="#222">20%</text>
<line x1="39.60" y1="209.00" x2="195.40" y2="209.00" stroke="#e4e4e4" stroke-width="0.3"/>
<text x="36.20" y="210.15" font-size="3.4" text-anchor="end" font-weight="normal" fill="#222">40%</text>
<line x1="39.60" y1="197.65" x2="195.40" y2="197.65" stroke="#e4e4e4" stroke-width="0.3"/>
<text x="36.20" y="198.80" font-size="3.4" text-anchor="end" font-weight="normal" fill="#222">60%</text>
<line x1="39.60" y1="186.30" x2="195.40" y2="186.30" stroke="#e4e4e4" stroke-width="0.3"/>
<text x="36.20" y="187.45" font-size="3.4" text-anchor="end" font-weight="normal" fill="#222">80%</text>
<line x1="39.60" y1="174.95" x2="195.40" y2="174.95" stroke="#e4e4e4" stroke-width="0.3"/>
<text x="36.20" y="176.10" font-size="3.4" text-anchor="end" font-weight="normal" fill="#222">100%</text>
<line x1="39.60" y1="163.60" x2="195.40" y2="163.60" stroke="#e4e4e4" stroke-width="0.3"/>
<text x="36.20" y="164.75" font-size="3.4" text-anchor="end" font-weight="normal" fill="#222">120%</text>
<line x1="38.48" y1="163.50" x2="38.48" y2="231.70" stroke="#e2e2e2" stroke-width="0.3"/>
<line x1="51.53" y1="163.50" x2="51.53" y2="231.70" stroke="#e2e2e2" stroke-width="0.3"/>
<line x1="64.58" y1="163.50" x2="64.58" y2="231.70" stroke="#cfcfcf" stroke-width="0.45"/>
<line x1="77.63" y1="163.50" x2="77.63" y2="231.70" stroke="#e2e2e2" stroke-width="0.3"/>
<line x1="90.68" y1="163.50" x2="90.68" y2="231.70" stroke="#e2e2e2" stroke-width="0.3"/>
<line x1="103.73" y1="163.50" x2="103.73" y2="231.70" stroke="#e2e2e2" stroke-width="0.3"/>
<line x1="116.78" y1="163.50" x2="116.78" y2="231.70" stroke="#e2e2e2" stroke-width="0.3"/>
<line x1="129.83" y1="163.50" x2="129.83" y2="231.70" stroke="#cfcfcf" stroke-width="0.45"/>
<line x1="142.88" y1="163.50" x2="142.88" y2="231.70" stroke="#e2e2e2" stroke-width="0.3"/>
<line x1="155.93" y1="163.50" x2="155.93" y2="231.70" stroke="#e2e2e2" stroke-width="0.3"/>
<line x1="168.98" y1="163.50" x2="168.98" y2="231.70" stroke="#e2e2e2" stroke-width="0.3"/>
<line x1="182.03" y1="163.50" x2="182.03" y2="231.70" stroke="#e2e2e2" stroke-width="0.3"/>
<line x1="195.08" y1="163.50" x2="195.08" y2="231.70" stroke="#e2e2e2" stroke-width="0.3"/>
<text x="17.20" y="197.20" font-size="5.5" text-anchor="middle" font-weight="bold" fill="#2a2a2a" transform="rotate(-90 17.20 197.20)" stroke="#2a2a2a" stroke-width="0.193">Cell cycle distribution</text>
<rect x="42.40" y="174.95" width="5.20" height="15.89" fill="#16ae4e"/>
<rect x="42.40" y="190.84" width="5.20" height="4.54" fill="#ffc000"/>
<rect x="42.40" y="195.38" width="5.20" height="34.62" fill="#0b6fc4"/>
<rect x="42.40" y="230.00" width="5.20" height="1.70" fill="#c00000"/>
<line x1="45.00" y1="174.05" x2="45.00" y2="174.95" stroke="#333" stroke-width="0.3"/>
<rect x="55.45" y="174.95" width="5.20" height="19.86" fill="#16ae4e"/>
<rect x="55.45" y="194.81" width="5.20" height="5.11" fill="#ffc000"/>
<rect x="55.45" y="199.92" width="5.20" height="30.65" fill="#0b6fc4"/>
<rect x="55.45" y="230.56" width="5.20" height="1.13" fill="#c00000"/>
<line x1="58.05" y1="174.05" x2="58.05" y2="174.95" stroke="#333" stroke-width="0.3"/>
<rect x="68.50" y="174.95" width="5.20" height="18.73" fill="#16ae4e"/>
<rect x="68.50" y="193.68" width="5.20" height="4.54" fill="#ffc000"/>
<rect x="68.50" y="198.22" width="5.20" height="31.50" fill="#0b6fc4"/>
<rect x="68.50" y="229.71" width="5.20" height="1.99" fill="#c00000"/>
<line x1="71.10" y1="174.05" x2="71.10" y2="174.95" stroke="#333" stroke-width="0.3"/>
<rect x="81.55" y="174.95" width="5.20" height="15.89" fill="#16ae4e"/>
<rect x="81.55" y="190.84" width="5.20" height="3.97" fill="#ffc000"/>
<rect x="81.55" y="194.81" width="5.20" height="29.23" fill="#0b6fc4"/>
<rect x="81.55" y="224.04" width="5.20" height="7.66" fill="#c00000"/>
<line x1="84.15" y1="174.05" x2="84.15" y2="174.95" stroke="#333" stroke-width="0.3"/>
<rect x="94.60" y="174.95" width="5.20" height="13.62" fill="#16ae4e"/>
<rect x="94.60" y="188.57" width="5.20" height="5.11" fill="#ffc000"/>
<rect x="94.60" y="193.68" width="5.20" height="30.08" fill="#0b6fc4"/>
<rect x="94.60" y="223.75" width="5.20" height="7.94" fill="#c00000"/>
<line x1="97.20" y1="174.05" x2="97.20" y2="174.95" stroke="#333" stroke-width="0.3"/>
<rect x="107.65" y="174.95" width="5.20" height="12.49" fill="#16ae4e"/>
<rect x="107.65" y="187.44" width="5.20" height="5.11" fill="#ffc000"/>
<rect x="107.65" y="192.54" width="5.20" height="27.41" fill="#0b6fc4"/>
<rect x="107.65" y="219.95" width="5.20" height="11.75" fill="#c00000"/>
<line x1="110.25" y1="174.05" x2="110.25" y2="174.95" stroke="#333" stroke-width="0.3"/>
<rect x="120.70" y="174.95" width="5.20" height="11.01" fill="#16ae4e"/>
<rect x="120.70" y="185.96" width="5.20" height="4.60" fill="#ffc000"/>
<rect x="120.70" y="190.56" width="5.20" height="23.78" fill="#0b6fc4"/>
<rect x="120.70" y="214.33" width="5.20" height="17.37" fill="#c00000"/>
<line x1="123.30" y1="174.05" x2="123.30" y2="174.95" stroke="#333" stroke-width="0.3"/>
<rect x="133.75" y="174.95" width="5.20" height="19.86" fill="#16ae4e"/>
<rect x="133.75" y="194.81" width="5.20" height="5.11" fill="#ffc000"/>
<rect x="133.75" y="199.92" width="5.20" height="25.88" fill="#0b6fc4"/>
<rect x="133.75" y="225.80" width="5.20" height="5.90" fill="#c00000"/>
<line x1="136.35" y1="174.05" x2="136.35" y2="174.95" stroke="#333" stroke-width="0.3"/>
<rect x="146.80" y="174.95" width="5.20" height="32.91" fill="#16ae4e"/>
<rect x="146.80" y="207.86" width="5.20" height="3.63" fill="#ffc000"/>
<rect x="146.80" y="211.50" width="5.20" height="9.19" fill="#0b6fc4"/>
<rect x="146.80" y="220.69" width="5.20" height="11.01" fill="#c00000"/>
<line x1="149.40" y1="174.05" x2="149.40" y2="174.95" stroke="#333" stroke-width="0.3"/>
<rect x="159.85" y="174.95" width="5.20" height="32.35" fill="#16ae4e"/>
<rect x="159.85" y="207.30" width="5.20" height="3.41" fill="#ffc000"/>
<rect x="159.85" y="210.70" width="5.20" height="8.74" fill="#0b6fc4"/>
<rect x="159.85" y="219.44" width="5.20" height="12.26" fill="#c00000"/>
<line x1="162.45" y1="174.05" x2="162.45" y2="174.95" stroke="#333" stroke-width="0.3"/>
<rect x="172.90" y="174.95" width="5.20" height="26.84" fill="#16ae4e"/>
<rect x="172.90" y="201.79" width="5.20" height="4.60" fill="#ffc000"/>
<rect x="172.90" y="206.39" width="5.20" height="9.99" fill="#0b6fc4"/>
<rect x="172.90" y="216.38" width="5.20" height="15.32" fill="#c00000"/>
<line x1="175.50" y1="174.05" x2="175.50" y2="174.95" stroke="#333" stroke-width="0.3"/>
<rect x="185.95" y="174.95" width="5.20" height="17.59" fill="#16ae4e"/>
<rect x="185.95" y="192.54" width="5.20" height="5.11" fill="#ffc000"/>
<rect x="185.95" y="197.65" width="5.20" height="14.75" fill="#0b6fc4"/>
<rect x="185.95" y="212.40" width="5.20" height="19.30" fill="#c00000"/>
<line x1="188.55" y1="174.05" x2="188.55" y2="174.95" stroke="#333" stroke-width="0.3"/>
<text x="43.00" y="238.60" font-size="4.5" text-anchor="end" font-weight="bold" fill="#000" stroke="#000" stroke-width="0.080">Dox (0.006 µmol/L</text>
<text x="43.00" y="244.10" font-size="4.5" text-anchor="end" font-weight="bold" fill="#000" stroke="#000" stroke-width="0.080">ZL-2201 (µmol/L</text>
<text x="45.00" y="238.60" font-size="3.8" text-anchor="middle" font-weight="bold" fill="#000" stroke="#000" stroke-width="0.133">-</text>
<text x="45.00" y="244.10" font-size="3.7" text-anchor="middle" font-weight="bold" fill="#000" stroke="#000" stroke-width="0.130">-</text>
<text x="58.05" y="238.60" font-size="3.8" text-anchor="middle" font-weight="bold" fill="#000" stroke="#000" stroke-width="0.133">+</text>
<text x="58.05" y="244.10" font-size="3.7" text-anchor="middle" font-weight="bold" fill="#000" stroke="#000" stroke-width="0.130">-</text>
<text x="71.10" y="238.60" font-size="3.8" text-anchor="middle" font-weight="bold" fill="#000" stroke="#000" stroke-width="0.133">-</text>
<text x="71.10" y="244.10" font-size="3.7" text-anchor="middle" font-weight="bold" fill="#000" stroke="#000" stroke-width="0.130">0.1</text>
<text x="84.15" y="238.60" font-size="3.8" text-anchor="middle" font-weight="bold" fill="#000" stroke="#000" stroke-width="0.133">-</text>
<text x="84.15" y="244.10" font-size="3.7" text-anchor="middle" font-weight="bold" fill="#000" stroke="#000" stroke-width="0.130">0.3</text>
<text x="97.20" y="238.60" font-size="3.8" text-anchor="middle" font-weight="bold" fill="#000" stroke="#000" stroke-width="0.133">-</text>
<text x="97.20" y="244.10" font-size="3.7" text-anchor="middle" font-weight="bold" fill="#000" stroke="#000" stroke-width="0.130">0.5</text>
<text x="110.25" y="238.60" font-size="3.8" text-anchor="middle" font-weight="bold" fill="#000" stroke="#000" stroke-width="0.133">-</text>
<text x="110.25" y="244.10" font-size="3.7" text-anchor="middle" font-weight="bold" fill="#000" stroke="#000" stroke-width="0.130">1.0</text>
<text x="123.30" y="238.60" font-size="3.8" text-anchor="middle" font-weight="bold" fill="#000" stroke="#000" stroke-width="0.133">-</text>
<text x="123.30" y="244.10" font-size="3.7" text-anchor="middle" font-weight="bold" fill="#000" stroke="#000" stroke-width="0.130">3.6</text>
<text x="136.35" y="238.60" font-size="3.8" text-anchor="middle" font-weight="bold" fill="#000" stroke="#000" stroke-width="0.133">+</text>
<text x="136.35" y="244.10" font-size="3.7" text-anchor="middle" font-weight="bold" fill="#000" stroke="#000" stroke-width="0.130">0.1</text>
<text x="149.40" y="238.60" font-size="3.8" text-anchor="middle" font-weight="bold" fill="#000" stroke="#000" stroke-width="0.133">+</text>
<text x="149.40" y="244.10" font-size="3.7" text-anchor="middle" font-weight="bold" fill="#000" stroke="#000" stroke-width="0.130">0.3</text>
<text x="162.45" y="238.60" font-size="3.8" text-anchor="middle" font-weight="bold" fill="#000" stroke="#000" stroke-width="0.133">+</text>
<text x="162.45" y="244.10" font-size="3.7" text-anchor="middle" font-weight="bold" fill="#000" stroke="#000" stroke-width="0.130">0.5</text>
<text x="175.50" y="238.60" font-size="3.8" text-anchor="middle" font-weight="bold" fill="#000" stroke="#000" stroke-width="0.133">+</text>
<text x="175.50" y="244.10" font-size="3.7" text-anchor="middle" font-weight="bold" fill="#000" stroke="#000" stroke-width="0.130">1.0</text>
<text x="188.55" y="238.60" font-size="3.8" text-anchor="middle" font-weight="bold" fill="#000" stroke="#000" stroke-width="0.133">+</text>
<text x="188.55" y="244.10" font-size="3.7" text-anchor="middle" font-weight="bold" fill="#000" stroke="#000" stroke-width="0.130">3.6</text>
<rect x="83.80" y="250.40" width="4.80" height="4.80" fill="#c00000"/>
<text x="89.60" y="254.90" font-size="5.9" fill="#000" stroke="#000" stroke-width="0.18">G<tspan font-size="3.5" dy="1.1">0</tspan><tspan dy="-1.1"></tspan></text>
<rect x="102.40" y="250.40" width="4.80" height="4.80" fill="#0b6fc4"/>
<text x="108.60" y="254.90" font-size="5.9" fill="#000" stroke="#000" stroke-width="0.18">G<tspan font-size="3.5" dy="1.1">1</tspan><tspan dy="-1.1"></tspan></text>
<rect x="119.20" y="250.40" width="4.80" height="4.80" fill="#ffc000"/>
<text x="125.60" y="254.90" font-size="5.9" fill="#000" stroke="#000" stroke-width="0.18">S<tspan font-size="3.5" dy="1.1"></tspan><tspan dy="-1.1"></tspan></text>
<rect x="133.10" y="250.40" width="4.80" height="4.80" fill="#16ae4e"/>
<text x="139.20" y="254.90" font-size="5.9" fill="#000" stroke="#000" stroke-width="0.18">G<tspan font-size="3.5" dy="1.1">2</tspan><tspan dy="-1.1">–M</tspan></text>
</g>
<g id="panelE">
<text x="211.80" y="145.40" font-size="7.6" text-anchor="start" font-weight="bold" fill="#000" stroke="#000" stroke-width="0.266">E</text>
<text x="220.10" y="166.00" font-size="5.2" text-anchor="middle" font-weight="bold" fill="#000" transform="rotate(-90 220.10 166.00)" stroke="#000" stroke-width="0.182">72 h</text>
<clipPath id="cp0"><rect x="223.00" y="152.00" width="29.60" height="27.70"/></clipPath>
<rect x="223.00" y="152.00" width="29.60" height="27.70" fill="#00000c"/>
<g clip-path="url(#cp0)"><g filter="url(#b1)">
<ellipse cx="230.10" cy="156.71" rx="2.63" ry="1.91" fill="#0a14e6" transform="rotate(30 230.10 156.71)"/>
<ellipse cx="236.91" cy="156.02" rx="3.19" ry="2.50" fill="#1030ff" transform="rotate(30 236.91 156.02)"/>
<ellipse cx="224.78" cy="164.74" rx="3.16" ry="2.27" fill="#0a14e6" transform="rotate(0 224.78 164.74)"/>
<ellipse cx="230.10" cy="166.13" rx="2.98" ry="1.90" fill="#0a14e6" transform="rotate(10 230.10 166.13)"/>
<ellipse cx="242.24" cy="169.45" rx="2.91" ry="1.84" fill="#1030ff" transform="rotate(30 242.24 169.45)"/>
<ellipse cx="250.23" cy="163.91" rx="3.34" ry="2.80" fill="#0a14e6" transform="rotate(80 250.23 163.91)"/>
<ellipse cx="224.78" cy="170.00" rx="2.80" ry="1.94" fill="#0a14e6" transform="rotate(20 224.78 170.00)"/>
<ellipse cx="226.85" cy="175.54" rx="3.36" ry="2.20" fill="#0a14e6" transform="rotate(40 226.85 175.54)"/>
<ellipse cx="232.18" cy="176.10" rx="2.83" ry="2.02" fill="#0a14e6" transform="rotate(20 232.18 176.10)"/>
<ellipse cx="240.17" cy="176.10" rx="2.86" ry="2.08" fill="#0a14e6" transform="rotate(20 240.17 176.10)"/>
</g></g>
<text x="237.80" y="150.30" font-size="4.45" text-anchor="middle" font-weight="bold" fill="#000" stroke="#000" stroke-width="0.156" textLength="19.00" lengthAdjust="spacingAndGlyphs">Untreated</text>
<clipPath id="cp1"><rect x="254.00" y="152.00" width="29.90" height="27.70"/></clipPath>
<rect x="254.00" y="152.00" width="29.90" height="27.70" fill="#00000c"/>
<g clip-path="url(#cp1)"><g filter="url(#b1)">
<ellipse cx="257.59" cy="153.94" rx="3.02" ry="2.01" fill="#0a14e6" transform="rotate(110 257.59 153.94)"/>
<ellipse cx="265.66" cy="154.77" rx="3.33" ry="2.42" fill="#0a14e6" transform="rotate(20 265.66 154.77)"/>
<ellipse cx="265.96" cy="154.57" rx="2.33" ry="1.70" fill="#10a8f0" transform="rotate(20 265.66 154.77)"/>
<ellipse cx="275.23" cy="153.94" rx="3.10" ry="2.07" fill="#0a14e6" transform="rotate(20 275.23 153.94)"/>
<ellipse cx="256.39" cy="161.42" rx="3.33" ry="2.43" fill="#0a14e6" transform="rotate(20 256.39 161.42)"/>
<ellipse cx="260.28" cy="165.30" rx="2.80" ry="2.02" fill="#0a14e6" transform="rotate(40 260.28 165.30)"/>
<ellipse cx="267.75" cy="161.42" rx="2.67" ry="1.71" fill="#1030ff" transform="rotate(60 267.75 161.42)"/>
<ellipse cx="273.14" cy="160.03" rx="3.19" ry="2.25" fill="#0a14e6" transform="rotate(70 273.14 160.03)"/>
<ellipse cx="273.44" cy="159.83" rx="2.24" ry="1.57" fill="#10a8f0" transform="rotate(70 273.14 160.03)"/>
<ellipse cx="277.92" cy="160.03" rx="3.21" ry="2.16" fill="#0a14e6" transform="rotate(70 277.92 160.03)"/>
<ellipse cx="281.21" cy="162.80" rx="2.88" ry="1.83" fill="#0a14e6" transform="rotate(70 281.21 162.80)"/>
<ellipse cx="267.16" cy="168.62" rx="2.77" ry="1.79" fill="#0a14e6" transform="rotate(110 267.16 168.62)"/>
<ellipse cx="267.46" cy="168.42" rx="1.94" ry="1.25" fill="#10a8f0" transform="rotate(110 267.16 168.62)"/>
<ellipse cx="262.97" cy="171.39" rx="3.11" ry="2.41" fill="#0a14e6" transform="rotate(40 262.97 171.39)"/>
<ellipse cx="263.27" cy="171.19" rx="2.18" ry="1.68" fill="#10a8f0" transform="rotate(40 262.97 171.39)"/>
<ellipse cx="256.39" cy="174.16" rx="2.86" ry="2.02" fill="#0a14e6" transform="rotate(70 256.39 174.16)"/>
<ellipse cx="259.08" cy="171.39" rx="2.57" ry="2.03" fill="#0a14e6" transform="rotate(70 259.08 171.39)"/>
<ellipse cx="267.75" cy="176.65" rx="2.51" ry="1.82" fill="#0a14e6" transform="rotate(110 267.75 176.65)"/>
<ellipse cx="268.05" cy="176.45" rx="1.75" ry="1.27" fill="#10a8f0" transform="rotate(110 267.75 176.65)"/>
<ellipse cx="271.64" cy="174.16" rx="2.59" ry="2.08" fill="#0a14e6" transform="rotate(40 271.64 174.16)"/>
<ellipse cx="276.42" cy="174.71" rx="3.13" ry="1.95" fill="#0a14e6" transform="rotate(110 276.42 174.71)"/>
<ellipse cx="281.81" cy="175.54" rx="3.24" ry="2.74" fill="#0a14e6" transform="rotate(70 281.81 175.54)"/>
<ellipse cx="279.12" cy="168.07" rx="2.66" ry="1.69" fill="#0a14e6" transform="rotate(20 279.12 168.07)"/>
<ellipse cx="256.99" cy="169.17" rx="1.20" ry="0.84" fill="#20d060" opacity="0.45"/>
</g></g>
<text x="268.95" y="150.30" font-size="4.45" text-anchor="middle" font-weight="bold" fill="#000" stroke="#000" stroke-width="0.156">0.006 µmol/L</text>
<text x="268.95" y="145.30" font-size="4.45" text-anchor="middle" font-weight="bold" fill="#000" stroke="#000" stroke-width="0.156">Doxorubicin</text>
<clipPath id="cp2"><rect x="285.80" y="152.00" width="28.20" height="27.70"/></clipPath>
<rect x="285.80" y="152.00" width="28.20" height="27.70" fill="#00000c"/>
<g clip-path="url(#cp2)"><g filter="url(#b1)">
<ellipse cx="290.88" cy="153.94" rx="2.63" ry="2.01" fill="#0a14e6" transform="rotate(20 290.88 153.94)"/>
<ellipse cx="296.80" cy="153.38" rx="3.00" ry="2.32" fill="#0a14e6" transform="rotate(20 296.80 153.38)"/>
<ellipse cx="302.16" cy="157.26" rx="2.85" ry="2.17" fill="#0a14e6" transform="rotate(110 302.16 157.26)"/>
<ellipse cx="310.90" cy="158.09" rx="3.02" ry="2.38" fill="#1030ff" transform="rotate(110 310.90 158.09)"/>
<ellipse cx="291.44" cy="163.36" rx="3.06" ry="2.26" fill="#0a14e6" transform="rotate(10 291.44 163.36)"/>
<ellipse cx="291.74" cy="163.16" rx="2.14" ry="1.58" fill="#10a8f0" transform="rotate(10 291.44 163.36)"/>
<ellipse cx="300.75" cy="164.74" rx="3.29" ry="2.60" fill="#1030ff" transform="rotate(60 300.75 164.74)"/>
<ellipse cx="311.46" cy="165.30" rx="2.84" ry="1.91" fill="#0a14e6" transform="rotate(20 311.46 165.30)"/>
<ellipse cx="288.62" cy="170.84" rx="2.58" ry="1.63" fill="#0a14e6" transform="rotate(20 288.62 170.84)"/>
<ellipse cx="293.41" cy="172.77" rx="3.05" ry="2.20" fill="#0a14e6" transform="rotate(110 293.41 172.77)"/>
<ellipse cx="299.62" cy="171.39" rx="3.25" ry="2.55" fill="#0a14e6" transform="rotate(110 299.62 171.39)"/>
<ellipse cx="309.49" cy="170.84" rx="2.63" ry="2.01" fill="#0a14e6" transform="rotate(150 309.49 170.84)"/>
<ellipse cx="309.79" cy="170.64" rx="1.84" ry="1.40" fill="#10a8f0" transform="rotate(150 309.49 170.84)"/>
<ellipse cx="308.36" cy="176.10" rx="2.93" ry="1.86" fill="#0a14e6" transform="rotate(110 308.36 176.10)"/>
<ellipse cx="308.66" cy="175.90" rx="2.05" ry="1.30" fill="#20d890" transform="rotate(110 308.36 176.10)"/>
<ellipse cx="308.36" cy="175.82" rx="2.20" ry="1.54" fill="#20d060" opacity="0.45"/>
<ellipse cx="293.41" cy="163.63" rx="1.60" ry="1.12" fill="#20d060" opacity="0.45"/>
</g></g>
<text x="299.90" y="150.30" font-size="4.45" text-anchor="middle" font-weight="bold" fill="#000" stroke="#000" stroke-width="0.156">0.006 µmol/L</text>
<text x="299.90" y="145.30" font-size="4.45" text-anchor="middle" font-weight="bold" fill="#000" stroke="#000" stroke-width="0.156">Doxorubicin</text>
<text x="299.90" y="140.30" font-size="4.45" text-anchor="middle" font-weight="bold" fill="#000" stroke="#000" stroke-width="0.156">0.1 µmol/L +</text>
<text x="299.90" y="135.30" font-size="4.45" text-anchor="middle" font-weight="bold" fill="#000" stroke="#000" stroke-width="0.156">ZL-2201</text>
<clipPath id="cp3"><rect x="316.30" y="152.00" width="28.30" height="27.70"/></clipPath>
<rect x="316.30" y="152.00" width="28.30" height="27.70" fill="#00000c"/>
<g clip-path="url(#cp3)"><g filter="url(#b1)">
<ellipse cx="320.26" cy="154.77" rx="3.38" ry="2.45" fill="#0a14e6" transform="rotate(20 320.26 154.77)"/>
<ellipse cx="320.56" cy="154.57" rx="2.37" ry="1.72" fill="#10a8f0" transform="rotate(20 320.26 154.77)"/>
<ellipse cx="325.07" cy="161.42" rx="3.15" ry="2.48" fill="#0a14e6" transform="rotate(40 325.07 161.42)"/>
<ellipse cx="325.37" cy="161.22" rx="2.20" ry="1.74" fill="#20d890" transform="rotate(40 325.07 161.42)"/>
<ellipse cx="323.09" cy="167.51" rx="2.69" ry="1.72" fill="#0a14e6" transform="rotate(110 323.09 167.51)"/>
<ellipse cx="323.39" cy="167.31" rx="1.89" ry="1.20" fill="#20d890" transform="rotate(110 323.09 167.51)"/>
<ellipse cx="318.28" cy="163.91" rx="3.17" ry="2.44" fill="#0a14e6" transform="rotate(80 318.28 163.91)"/>
<ellipse cx="333.28" cy="161.42" rx="2.92" ry="2.03" fill="#0a14e6" transform="rotate(150 333.28 161.42)"/>
<ellipse cx="341.20" cy="162.80" rx="2.61" ry="1.67" fill="#0a14e6" transform="rotate(80 341.20 162.80)"/>
<ellipse cx="334.41" cy="169.45" rx="2.70" ry="2.19" fill="#0a14e6" transform="rotate(30 334.41 169.45)"/>
<ellipse cx="334.71" cy="169.25" rx="1.89" ry="1.53" fill="#10a8f0" transform="rotate(30 334.41 169.45)"/>
<ellipse cx="340.64" cy="170.84" rx="2.52" ry="1.69" fill="#0a14e6" transform="rotate(0 340.64 170.84)"/>
<ellipse cx="322.24" cy="172.50" rx="3.12" ry="2.37" fill="#0a14e6" transform="rotate(40 322.24 172.50)"/>
<ellipse cx="332.43" cy="176.10" rx="2.67" ry="1.90" fill="#0a14e6" transform="rotate(150 332.43 176.10)"/>
<ellipse cx="341.20" cy="176.65" rx="3.02" ry="2.34" fill="#0a14e6" transform="rotate(20 341.20 176.65)"/>
<ellipse cx="341.50" cy="176.45" rx="2.12" ry="1.64" fill="#10a8f0" transform="rotate(20 341.20 176.65)"/>
<ellipse cx="321.68" cy="177.21" rx="3.21" ry="2.41" fill="#0a14e6" transform="rotate(110 321.68 177.21)"/>
<ellipse cx="342.62" cy="153.38" rx="2.72" ry="1.92" fill="#0a14e6" transform="rotate(110 342.62 153.38)"/>
<ellipse cx="324.79" cy="160.31" rx="3.60" ry="2.52" fill="#20d060" opacity="0.45"/>
<ellipse cx="323.38" cy="167.23" rx="2.40" ry="1.68" fill="#20d060" opacity="0.45"/>
<ellipse cx="319.70" cy="155.32" rx="2.00" ry="1.40" fill="#20d060" opacity="0.45"/>
</g></g>
<text x="330.45" y="150.30" font-size="4.45" text-anchor="middle" font-weight="bold" fill="#000" stroke="#000" stroke-width="0.156">0.006 µmol/L</text>
<text x="330.45" y="145.30" font-size="4.45" text-anchor="middle" font-weight="bold" fill="#000" stroke="#000" stroke-width="0.156">Doxorubicin</text>
<text x="330.45" y="140.30" font-size="4.45" text-anchor="middle" font-weight="bold" fill="#000" stroke="#000" stroke-width="0.156">0.3 µmol/L +</text>
<text x="330.45" y="135.30" font-size="4.45" text-anchor="middle" font-weight="bold" fill="#000" stroke="#000" stroke-width="0.156">ZL-2201</text>
<clipPath id="cp4"><rect x="346.80" y="152.00" width="28.00" height="27.70"/></clipPath>
<rect x="346.80" y="152.00" width="28.00" height="27.70" fill="#00000c"/>
<g clip-path="url(#cp4)"><g filter="url(#b1)">
<ellipse cx="358.84" cy="156.43" rx="3.36" ry="2.76" fill="#0a14e6" transform="rotate(20 358.84 156.43)"/>
<ellipse cx="359.14" cy="156.23" rx="2.35" ry="1.93" fill="#10a8f0" transform="rotate(20 358.84 156.43)"/>
<ellipse cx="371.72" cy="160.03" rx="3.16" ry="2.12" fill="#0a14e6" transform="rotate(60 371.72 160.03)"/>
<ellipse cx="372.02" cy="159.83" rx="2.21" ry="1.49" fill="#20d890" transform="rotate(60 371.72 160.03)"/>
<ellipse cx="351.28" cy="164.74" rx="2.80" ry="2.19" fill="#0a14e6" transform="rotate(0 351.28 164.74)"/>
<ellipse cx="369.76" cy="167.51" rx="3.32" ry="2.14" fill="#0a14e6" transform="rotate(20 369.76 167.51)"/>
<ellipse cx="370.06" cy="167.31" rx="2.32" ry="1.50" fill="#10a8f0" transform="rotate(20 369.76 167.51)"/>
<ellipse cx="349.60" cy="173.05" rx="2.61" ry="2.01" fill="#0a14e6" transform="rotate(40 349.60 173.05)"/>
<ellipse cx="349.90" cy="172.85" rx="1.82" ry="1.41" fill="#20d890" transform="rotate(40 349.60 173.05)"/>
<ellipse cx="362.48" cy="173.05" rx="2.83" ry="1.80" fill="#0a14e6" transform="rotate(50 362.48 173.05)"/>
<ellipse cx="362.78" cy="172.85" rx="1.98" ry="1.26" fill="#20d890" transform="rotate(50 362.48 173.05)"/>
<ellipse cx="359.40" cy="165.85" rx="2.68" ry="1.82" fill="#0a14e6" transform="rotate(40 359.40 165.85)"/>
<ellipse cx="371.44" cy="159.48" rx="2.60" ry="1.82" fill="#20d060" opacity="0.45"/>
<ellipse cx="362.48" cy="173.05" rx="3.00" ry="2.10" fill="#20d060" opacity="0.45"/>
<ellipse cx="349.60" cy="173.61" rx="2.20" ry="1.54" fill="#20d060" opacity="0.45"/>
</g></g>
<text x="360.80" y="150.30" font-size="4.45" text-anchor="middle" font-weight="bold" fill="#000" stroke="#000" stroke-width="0.156">0.006 µmol/L</text>
<text x="360.80" y="145.30" font-size="4.45" text-anchor="middle" font-weight="bold" fill="#000" stroke="#000" stroke-width="0.156">Doxorubicin</text>
<text x="360.80" y="140.30" font-size="4.45" text-anchor="middle" font-weight="bold" fill="#000" stroke="#000" stroke-width="0.156">0.5 µmol/L +</text>
<text x="360.80" y="135.30" font-size="4.45" text-anchor="middle" font-weight="bold" fill="#000" stroke="#000" stroke-width="0.156">ZL-2201</text>
<clipPath id="cp5"><rect x="377.20" y="152.00" width="27.70" height="27.70"/></clipPath>
<rect x="377.20" y="152.00" width="27.70" height="27.70" fill="#00000c"/>
<g clip-path="url(#cp5)"><g filter="url(#b1)">
<ellipse cx="385.51" cy="159.20" rx="3.29" ry="2.30" fill="#0a14e6" transform="rotate(0 385.51 159.20)"/>
<ellipse cx="395.76" cy="161.97" rx="3.36" ry="2.32" fill="#0a14e6" transform="rotate(110 395.76 161.97)"/>
<ellipse cx="382.74" cy="165.57" rx="2.80" ry="1.84" fill="#0a14e6" transform="rotate(60 382.74 165.57)"/>
<ellipse cx="383.04" cy="165.37" rx="1.96" ry="1.29" fill="#10a8f0" transform="rotate(60 382.74 165.57)"/>
<ellipse cx="390.22" cy="167.51" rx="2.81" ry="2.23" fill="#0a14e6" transform="rotate(70 390.22 167.51)"/>
<ellipse cx="390.52" cy="167.31" rx="1.97" ry="1.56" fill="#20d890" transform="rotate(70 390.22 167.51)"/>
<ellipse cx="402.96" cy="166.68" rx="2.63" ry="2.03" fill="#0a14e6" transform="rotate(40 402.96 166.68)"/>
<ellipse cx="380.80" cy="173.05" rx="3.34" ry="2.72" fill="#0a14e6" transform="rotate(110 380.80 173.05)"/>
<ellipse cx="386.34" cy="172.22" rx="2.85" ry="2.07" fill="#0a14e6" transform="rotate(70 386.34 172.22)"/>
<ellipse cx="386.64" cy="172.02" rx="1.99" ry="1.45" fill="#10a8f0" transform="rotate(70 386.34 172.22)"/>
<ellipse cx="393.82" cy="174.99" rx="3.29" ry="2.74" fill="#0a14e6" transform="rotate(20 393.82 174.99)"/>
<ellipse cx="399.36" cy="176.38" rx="3.14" ry="2.08" fill="#0a14e6" transform="rotate(40 399.36 176.38)"/>
<ellipse cx="390.22" cy="167.51" rx="2.00" ry="1.40" fill="#20d060" opacity="0.45"/>
</g></g>
<text x="391.05" y="150.30" font-size="4.45" text-anchor="middle" font-weight="bold" fill="#000" stroke="#000" stroke-width="0.156">0.006 µmol/L</text>
<text x="391.05" y="145.30" font-size="4.45" text-anchor="middle" font-weight="bold" fill="#000" stroke="#000" stroke-width="0.156">Doxorubicin</text>
<text x="391.05" y="140.30" font-size="4.45" text-anchor="middle" font-weight="bold" fill="#000" stroke="#000" stroke-width="0.156">1 µmol/L +</text>
<text x="391.05" y="135.30" font-size="4.45" text-anchor="middle" font-weight="bold" fill="#000" stroke="#000" stroke-width="0.156">ZL-2201</text>
<clipPath id="cp6"><rect x="407.30" y="152.00" width="27.20" height="27.70"/></clipPath>
<rect x="407.30" y="152.00" width="27.20" height="27.70" fill="#00000c"/>
<g clip-path="url(#cp6)"><g filter="url(#b1)">
<ellipse cx="415.19" cy="156.43" rx="3.14" ry="2.60" fill="#1030ff" transform="rotate(0 415.19 156.43)"/>
<ellipse cx="424.44" cy="155.32" rx="3.00" ry="2.22" fill="#0a14e6" transform="rotate(10 424.44 155.32)"/>
<ellipse cx="424.74" cy="155.12" rx="2.10" ry="1.56" fill="#10a8f0" transform="rotate(10 424.44 155.32)"/>
<ellipse cx="410.56" cy="163.91" rx="2.93" ry="2.46" fill="#0a14e6" transform="rotate(40 410.56 163.91)"/>
<ellipse cx="425.25" cy="165.57" rx="3.22" ry="2.14" fill="#0a14e6" transform="rotate(70 425.25 165.57)"/>
<ellipse cx="430.69" cy="163.91" rx="2.83" ry="2.05" fill="#0a14e6" transform="rotate(150 430.69 163.91)"/>
<ellipse cx="427.70" cy="160.03" rx="2.75" ry="1.85" fill="#0a14e6" transform="rotate(70 427.70 160.03)"/>
<ellipse cx="422.53" cy="173.05" rx="2.75" ry="2.01" fill="#0a14e6" transform="rotate(40 422.53 173.05)"/>
<ellipse cx="422.83" cy="172.85" rx="1.93" ry="1.41" fill="#10a8f0" transform="rotate(40 422.53 173.05)"/>
<ellipse cx="408.66" cy="177.76" rx="2.62" ry="1.79" fill="#0a14e6" transform="rotate(70 408.66 177.76)"/>
<ellipse cx="431.78" cy="175.82" rx="2.82" ry="1.93" fill="#0a14e6" transform="rotate(40 431.78 175.82)"/>
</g></g>
<text x="420.90" y="150.30" font-size="4.45" text-anchor="middle" font-weight="bold" fill="#000" stroke="#000" stroke-width="0.156">0.006 µmol/L</text>
<text x="420.90" y="145.30" font-size="4.45" text-anchor="middle" font-weight="bold" fill="#000" stroke="#000" stroke-width="0.156">Doxorubicin</text>
<text x="420.90" y="140.30" font-size="4.45" text-anchor="middle" font-weight="bold" fill="#000" stroke="#000" stroke-width="0.156">3.6 µmol/L +</text>
<text x="420.90" y="135.30" font-size="4.45" text-anchor="middle" font-weight="bold" fill="#000" stroke="#000" stroke-width="0.156">ZL-2201</text>
<text x="250.80" y="155.30" font-size="2.2" text-anchor="end" font-weight="bold" fill="#2040ff" stroke="#2040ff" stroke-width="0.077">DAPI</text>
<text x="250.80" y="157.80" font-size="2.2" text-anchor="end" font-weight="bold" fill="#50e060" stroke="#50e060" stroke-width="0.077">γH2AX</text>
<text x="304.40" y="194.60" font-size="6.3" text-anchor="middle" font-weight="bold" fill="#000" stroke="#000" stroke-width="0.221">H1703</text>
<line x1="294.20" y1="195.70" x2="314.60" y2="195.70" stroke="#000" stroke-width="0.7"/>
<line x1="250.50" y1="203.20" x2="250.50" y2="274.20" stroke="#000" stroke-width="0.7"/>
<line x1="250.20" y1="273.90" x2="357.30" y2="273.90" stroke="#000" stroke-width="0.7"/>
<line x1="248.70" y1="273.90" x2="250.50" y2="273.90" stroke="#000" stroke-width="0.6"/>
<text x="248.10" y="275.50" font-size="4.6" text-anchor="end" font-weight="bold" fill="#000" stroke="#000" stroke-width="0.161">0</text>
<line x1="248.70" y1="250.47" x2="250.50" y2="250.47" stroke="#000" stroke-width="0.6"/>
<text x="248.10" y="252.07" font-size="4.6" text-anchor="end" font-weight="bold" fill="#000" stroke="#000" stroke-width="0.161">10</text>
<line x1="248.70" y1="227.04" x2="250.50" y2="227.04" stroke="#000" stroke-width="0.6"/>
<text x="248.10" y="228.64" font-size="4.6" text-anchor="end" font-weight="bold" fill="#000" stroke="#000" stroke-width="0.161">20</text>
<line x1="248.70" y1="203.61" x2="250.50" y2="203.61" stroke="#000" stroke-width="0.6"/>
<text x="248.10" y="205.21" font-size="4.6" text-anchor="end" font-weight="bold" fill="#000" stroke="#000" stroke-width="0.161">30</text>
<text x="230.80" y="239.50" font-size="5.2" text-anchor="middle" font-weight="bold" fill="#000" transform="rotate(-90 230.80 239.50)" stroke="#000" stroke-width="0.182">Fold change γH2AX foci</text>
<text x="236.60" y="239.50" font-size="5.2" text-anchor="middle" font-weight="bold" fill="#000" transform="rotate(-90 236.60 239.50)" stroke="#000" stroke-width="0.182">(vs. Untreated)</text>
<rect x="252.10" y="271.56" width="2.00" height="2.34" fill="#000000"/>
<rect x="254.90" y="271.32" width="2.00" height="2.58" fill="#ff7a10"/>
<rect x="257.70" y="271.79" width="2.00" height="2.11" fill="#c4bc1c"/>
<rect x="260.50" y="271.56" width="2.00" height="2.34" fill="#1cc41c"/>
<rect x="263.30" y="271.79" width="2.00" height="2.11" fill="#1c9cb0"/>
<rect x="266.10" y="272.49" width="2.00" height="1.41" fill="#1010ff"/>
<rect x="268.90" y="272.03" width="2.00" height="1.87" fill="#ff1010"/>
<rect x="271.70" y="272.03" width="2.00" height="1.87" fill="#80780c"/>
<rect x="274.50" y="271.79" width="2.00" height="2.11" fill="#10a064"/>
<rect x="277.30" y="270.85" width="2.00" height="3.05" fill="#1010c4"/>
<rect x="280.10" y="270.62" width="2.00" height="3.28" fill="#cc9450"/>
<rect x="282.90" y="271.09" width="2.00" height="2.81" fill="#5c5c5c"/>
<line x1="268.50" y1="273.90" x2="268.50" y2="275.80" stroke="#000" stroke-width="0.6"/>
<rect x="287.80" y="271.56" width="2.00" height="2.34" fill="#000000"/>
<rect x="290.60" y="272.49" width="2.00" height="1.41" fill="#ff7a10"/>
<rect x="293.40" y="272.49" width="2.00" height="1.41" fill="#c4bc1c"/>
<rect x="296.20" y="271.56" width="2.00" height="2.34" fill="#1cc41c"/>
<rect x="299.00" y="271.79" width="2.00" height="2.11" fill="#1c9cb0"/>
<rect x="301.80" y="272.26" width="2.00" height="1.64" fill="#1010ff"/>
<rect x="304.60" y="269.45" width="2.00" height="4.45" fill="#ff1010"/>
<rect x="307.40" y="267.81" width="2.00" height="6.09" fill="#80780c"/>
<rect x="310.20" y="256.56" width="2.00" height="17.34" fill="#10a064"/>
<rect x="313.00" y="244.14" width="2.00" height="29.76" fill="#1010c4"/>
<rect x="315.80" y="233.60" width="2.00" height="40.30" fill="#cc9450"/>
<rect x="318.60" y="246.25" width="2.00" height="27.65" fill="#5c5c5c"/>
<line x1="304.20" y1="273.90" x2="304.20" y2="275.80" stroke="#000" stroke-width="0.6"/>
<rect x="323.10" y="271.56" width="2.00" height="2.34" fill="#000000"/>
<rect x="325.90" y="272.49" width="2.00" height="1.41" fill="#ff7a10"/>
<rect x="328.70" y="272.73" width="2.00" height="1.17" fill="#c4bc1c"/>
<rect x="331.50" y="269.92" width="2.00" height="3.98" fill="#1cc41c"/>
<rect x="334.30" y="270.15" width="2.00" height="3.75" fill="#1c9cb0"/>
<rect x="337.10" y="271.09" width="2.00" height="2.81" fill="#1010ff"/>
<rect x="339.90" y="269.21" width="2.00" height="4.69" fill="#ff1010"/>
<rect x="342.70" y="263.36" width="2.00" height="10.54" fill="#80780c"/>
<rect x="345.50" y="244.85" width="2.00" height="29.05" fill="#10a064"/>
<rect x="348.30" y="215.79" width="2.00" height="58.11" fill="#1010c4"/>
<rect x="351.10" y="223.99" width="2.00" height="49.91" fill="#cc9450"/>
<rect x="353.90" y="238.29" width="2.00" height="35.61" fill="#5c5c5c"/>
<line x1="339.50" y1="273.90" x2="339.50" y2="275.80" stroke="#000" stroke-width="0.6"/>
<text x="268.50" y="283.10" font-size="5.0" text-anchor="middle" font-weight="bold" fill="#000" stroke="#000" stroke-width="0.175">2h</text>
<text x="304.20" y="283.10" font-size="5.0" text-anchor="middle" font-weight="bold" fill="#000" stroke="#000" stroke-width="0.175">24h</text>
<text x="339.50" y="283.10" font-size="5.0" text-anchor="middle" font-weight="bold" fill="#000" stroke="#000" stroke-width="0.175">72h</text>
<rect x="363.80" y="183.90" width="7.40" height="3.00" fill="#000000"/>
<text x="375.30" y="187.40" font-size="5.75" text-anchor="start" font-weight="bold" fill="#000" stroke="#000" stroke-width="0.201">Untreated</text>
<rect x="363.80" y="193.37" width="7.40" height="3.00" fill="#ff7a10"/>
<text x="375.30" y="196.87" font-size="5.75" text-anchor="start" font-weight="bold" fill="#000" stroke="#000" stroke-width="0.201">ZL-2201 (0.1 µmol/L)</text>
<rect x="363.80" y="202.83" width="7.40" height="3.00" fill="#c4bc1c"/>
<text x="375.30" y="206.33" font-size="5.75" text-anchor="start" font-weight="bold" fill="#000" stroke="#000" stroke-width="0.201">ZL-2201 (0.3 µmol/L)</text>
<rect x="363.80" y="212.30" width="7.40" height="3.00" fill="#1cc41c"/>
<text x="375.30" y="215.80" font-size="5.75" text-anchor="start" font-weight="bold" fill="#000" stroke="#000" stroke-width="0.201">ZL-2201 (0.5 µmol/L)</text>
<rect x="363.80" y="221.76" width="7.40" height="3.00" fill="#1c9cb0"/>
<text x="375.30" y="225.26" font-size="5.75" text-anchor="start" font-weight="bold" fill="#000" stroke="#000" stroke-width="0.201">ZL-2201 (1 µmol/L)</text>
<rect x="363.80" y="231.23" width="7.40" height="3.00" fill="#1010ff"/>
<text x="375.30" y="234.73" font-size="5.75" text-anchor="start" font-weight="bold" fill="#000" stroke="#000" stroke-width="0.201">ZL-2201 (3.6 µmol/L)</text>
<rect x="363.80" y="240.69" width="7.40" height="3.00" fill="#ff1010"/>
<text x="375.30" y="244.19" font-size="5.75" text-anchor="start" font-weight="bold" fill="#000" stroke="#000" stroke-width="0.201">Dox (0.006 µmol/L)</text>
<rect x="363.80" y="250.16" width="7.40" height="3.00" fill="#80780c"/>
<text x="375.30" y="253.66" font-size="5.75" text-anchor="start" font-weight="bold" fill="#000" stroke="#000" stroke-width="0.201">ZL-2201 (0.1 µmol/L) + Dox</text>
<rect x="363.80" y="259.62" width="7.40" height="3.00" fill="#10a064"/>
<text x="375.30" y="263.12" font-size="5.75" text-anchor="start" font-weight="bold" fill="#000" stroke="#000" stroke-width="0.201">ZL-2201 (0.3 µmol/L) + Dox</text>
<rect x="363.80" y="269.09" width="7.40" height="3.00" fill="#1010c4"/>
<text x="375.30" y="272.59" font-size="5.75" text-anchor="start" font-weight="bold" fill="#000" stroke="#000" stroke-width="0.201">ZL-2201 (0.5 µmol/L) + Dox</text>
<rect x="363.80" y="278.55" width="7.40" height="3.00" fill="#cc9450"/>
<text x="375.30" y="282.05" font-size="5.75" text-anchor="start" font-weight="bold" fill="#000" stroke="#000" stroke-width="0.201">ZL-2201 (1 µmol/L) + Dox</text>
<rect x="363.80" y="288.01" width="7.40" height="3.00" fill="#5c5c5c"/>
<text x="375.30" y="291.51" font-size="5.75" text-anchor="start" font-weight="bold" fill="#000" stroke="#000" stroke-width="0.201">ZL-2201 (3.6 µmol/L) + Dox</text>
</g>
</svg>
</body>
</html>
